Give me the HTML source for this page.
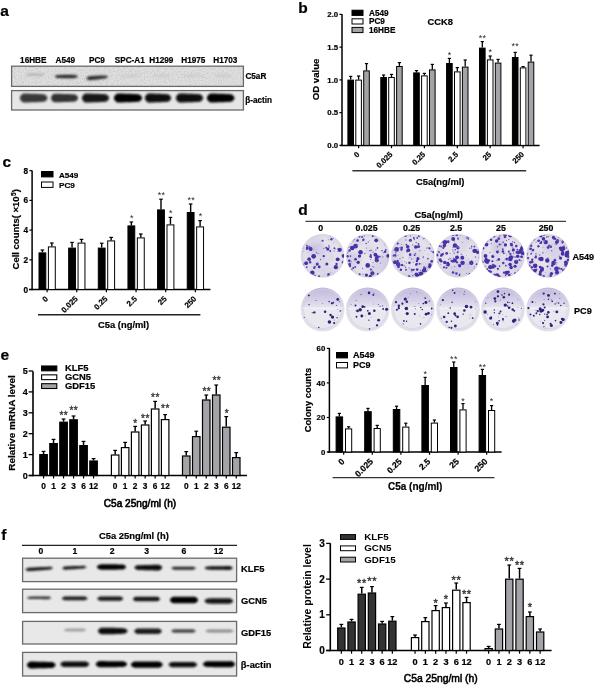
<!DOCTYPE html>
<html><head><meta charset="utf-8"><title>Figure</title>
<style>
html,body{margin:0;padding:0;background:#fff;}
svg{display:block;}
text{font-family:"Liberation Sans",Arial,Helvetica,sans-serif;}
text:not([stroke]){stroke:#000;stroke-width:0.2px;}
</style></head><body>
<svg width="595" height="685" viewBox="0 0 595 685">
<defs>
<filter id="b1" x="-20%" y="-80%" width="140%" height="260%"><feGaussianBlur stdDeviation="0.8"/></filter>
<filter id="noise" x="0" y="0" width="100%" height="100%"><feTurbulence type="fractalNoise" baseFrequency="0.7" numOctaves="2" seed="7" result="t"/><feColorMatrix in="t" type="matrix" values="0 0 0 0 0  0 0 0 0 0  0 0 0 0 0  0 0 0 -2.2 1.35" result="m"/><feComposite in="m" in2="SourceGraphic" operator="in"/><feGaussianBlur stdDeviation="0.6"/></filter>
<filter id="b15" x="-20%" y="-100%" width="140%" height="300%"><feGaussianBlur stdDeviation="1.0"/></filter>
<radialGradient id="gA" cx="50%" cy="50%" r="50%"><stop offset="0" stop-color="#e8e7ec"/><stop offset="0.8" stop-color="#e3e1e9"/><stop offset="0.95" stop-color="#d9d6e3"/><stop offset="1" stop-color="#e2e0e8"/></radialGradient>
<linearGradient id="gP" x1="0" y1="0" x2="0" y2="1"><stop offset="0" stop-color="#c0b6dc"/><stop offset="0.3" stop-color="#d8d2e8"/><stop offset="0.5" stop-color="#ebe9f0"/><stop offset="1" stop-color="#e8e6ee"/></linearGradient>
<filter id="b0" x="-5%" y="-5%" width="110%" height="110%"><feGaussianBlur stdDeviation="0.35"/></filter>
<filter id="b2" x="-50%" y="-50%" width="200%" height="200%"><feGaussianBlur stdDeviation="1.5"/></filter>
</defs>
<rect width="595" height="685" fill="#fff"/>
<text x="0.3" y="15.5" font-size="15.5" font-weight="bold" text-anchor="start" fill="#000" >a</text>
<text x="33.3" y="63" font-size="8.2" font-weight="bold" text-anchor="middle" fill="#000" >16HBE</text>
<text x="65.3" y="63" font-size="8.2" font-weight="bold" text-anchor="middle" fill="#000" >A549</text>
<text x="96.9" y="63" font-size="8.2" font-weight="bold" text-anchor="middle" fill="#000" >PC9</text>
<text x="129.8" y="63" font-size="8.2" font-weight="bold" text-anchor="middle" fill="#000" >SPC-A1</text>
<text x="161.3" y="63" font-size="8.2" font-weight="bold" text-anchor="middle" fill="#000" >H1299</text>
<text x="193.3" y="63" font-size="8.2" font-weight="bold" text-anchor="middle" fill="#000" >H1975</text>
<text x="225.3" y="63" font-size="8.2" font-weight="bold" text-anchor="middle" fill="#000" >H1703</text>
<rect x="11.6" y="66.2" width="231.8" height="20.2" fill="#e0e0e0" stroke="#6a6a6a" stroke-width="1.3" />
<rect x="12.3" y="66.9" width="230.4" height="18.8" fill="#000" filter="url(#noise)" opacity="0.1"/>
<rect x="11.6" y="90.6" width="231.8" height="19.4" fill="#e6e6e6" stroke="#6a6a6a" stroke-width="1.3" />
<path d="M26,74.27 L27,73.63 L28,73.3 L29,73.3 L30,73.3 L31,73.3 L32,73.3 L33,73.3 L34,73.3 L35,73.3 L36,73.3 L37,73.3 L38,73.3 L39,73.3 L40,73.3 L41,73.3 L42,73.3 L43,73.63 L44,74.27 L44,74.92 L43,75.57 L42,75.9 L41,75.9 L40,75.9 L39,75.9 L38,75.9 L37,75.9 L36,75.9 L35,75.9 L34,75.9 L33,75.9 L32,75.9 L31,75.9 L30,75.9 L29,75.9 L28,75.9 L27,75.57 L26,74.92Z" fill="#b0b0b0" opacity="0.8" filter="url(#b1)"/>
<path d="M54.8,76.17 L56.06,75.49 L57.32,75.09 L58.58,75.04 L59.84,74.98 L61.11,74.93 L62.37,74.87 L63.63,74.82 L64.89,74.76 L66.15,74.7 L67.41,74.73 L68.67,74.76 L69.93,74.79 L71.19,74.83 L72.46,74.86 L73.72,74.89 L74.98,74.93 L76.24,75.36 L77.5,76.12 L77.5,76.88 L76.24,77.64 L74.98,78.07 L73.72,78.11 L72.46,78.14 L71.19,78.17 L69.93,78.21 L68.67,78.24 L67.41,78.27 L66.15,78.3 L64.89,78.24 L63.63,78.18 L62.37,78.13 L61.11,78.07 L59.84,78.02 L58.58,77.96 L57.32,77.91 L56.06,77.51 L54.8,76.83Z" fill="#2a2a2a" opacity="1.0" filter="url(#b1)"/>
<path d="M86.6,77.9 L87.78,76.81 L88.96,76.21 L90.13,76.12 L91.31,76.03 L92.49,75.94 L93.67,75.85 L94.84,75.76 L96.02,75.68 L97.2,75.6 L98.38,75.6 L99.56,75.59 L100.73,75.58 L101.91,75.57 L103.09,75.56 L104.27,75.55 L105.44,75.54 L106.62,75.87 L107.8,76.47 L107.8,77.12 L106.62,77.91 L105.44,78.42 L104.27,78.58 L103.09,78.75 L101.91,78.92 L100.73,79.08 L99.56,79.25 L98.38,79.43 L97.2,79.6 L96.02,79.7 L94.84,79.79 L93.67,79.88 L92.49,79.97 L91.31,80.06 L90.13,80.15 L88.96,80.24 L87.78,79.81 L86.6,78.9Z" fill="#333" opacity="1.0" filter="url(#b1)"/>
<path d="M120,75.5 L121.11,74.91 L122.22,74.6 L123.33,74.6 L124.44,74.6 L125.56,74.6 L126.67,74.6 L127.78,74.6 L128.89,74.6 L130,74.6 L131.11,74.6 L132.22,74.6 L133.33,74.6 L134.44,74.6 L135.56,74.6 L136.67,74.6 L137.78,74.6 L138.89,74.91 L140,75.5 L140,76.1 L138.89,76.69 L137.78,77 L136.67,77 L135.56,77 L134.44,77 L133.33,77 L132.22,77 L131.11,77 L130,77 L128.89,77 L127.78,77 L126.67,77 L125.56,77 L124.44,77 L123.33,77 L122.22,77 L121.11,76.69 L120,76.1Z" fill="#c4c4c4" opacity="0.6" filter="url(#b1)"/>
<path d="M152,75.5 L153,74.91 L154,74.6 L155,74.6 L156,74.6 L157,74.6 L158,74.6 L159,74.6 L160,74.6 L161,74.6 L162,74.6 L163,74.6 L164,74.6 L165,74.6 L166,74.6 L167,74.6 L168,74.6 L169,74.91 L170,75.5 L170,76.1 L169,76.69 L168,77 L167,77 L166,77 L165,77 L164,77 L163,77 L162,77 L161,77 L160,77 L159,77 L158,77 L157,77 L156,77 L155,77 L154,77 L153,76.69 L152,76.1Z" fill="#c4c4c4" opacity="0.6" filter="url(#b1)"/>
<path d="M183,75.5 L184.11,74.91 L185.22,74.6 L186.33,74.6 L187.44,74.6 L188.56,74.6 L189.67,74.6 L190.78,74.6 L191.89,74.6 L193,74.6 L194.11,74.6 L195.22,74.6 L196.33,74.6 L197.44,74.6 L198.56,74.6 L199.67,74.6 L200.78,74.6 L201.89,74.91 L203,75.5 L203,76.1 L201.89,76.69 L200.78,77 L199.67,77 L198.56,77 L197.44,77 L196.33,77 L195.22,77 L194.11,77 L193,77 L191.89,77 L190.78,77 L189.67,77 L188.56,77 L187.44,77 L186.33,77 L185.22,77 L184.11,76.69 L183,76.1Z" fill="#c4c4c4" opacity="0.6" filter="url(#b1)"/>
<path d="M214,75.5 L215,74.91 L216,74.6 L217,74.6 L218,74.6 L219,74.6 L220,74.6 L221,74.6 L222,74.6 L223,74.6 L224,74.6 L225,74.6 L226,74.6 L227,74.6 L228,74.6 L229,74.6 L230,74.6 L231,74.91 L232,75.5 L232,76.1 L231,76.69 L230,77 L229,77 L228,77 L227,77 L226,77 L225,77 L224,77 L223,77 L222,77 L221,77 L220,77 L219,77 L218,77 L217,77 L216,77 L215,76.69 L214,76.1Z" fill="#c4c4c4" opacity="0.6" filter="url(#b1)"/>
<path d="M20,96.87 L21.52,94.65 L23.04,93.53 L24.57,93.55 L26.09,93.57 L27.61,93.6 L29.13,93.62 L30.66,93.65 L32.18,93.67 L33.7,93.7 L35.22,93.77 L36.74,93.85 L38.27,93.92 L39.79,93.99 L41.31,94.06 L42.83,94.14 L44.36,94.21 L45.88,95.22 L47.4,97.09 L47.4,98.91 L45.88,100.78 L44.36,101.79 L42.83,101.86 L41.31,101.94 L39.79,102.01 L38.27,102.08 L36.74,102.15 L35.22,102.23 L33.7,102.3 L32.18,102.33 L30.66,102.35 L29.13,102.38 L27.61,102.4 L26.09,102.43 L24.57,102.45 L23.04,102.47 L21.52,101.35 L20,99.13Z" fill="#383838" opacity="1.0" filter="url(#b15)"/>
<path d="M51,96.92 L52.5,94.81 L54,93.74 L55.5,93.76 L57,93.78 L58.5,93.8 L60,93.83 L61.5,93.85 L63,93.88 L64.5,93.9 L66,93.97 L67.5,94.04 L69,94.11 L70.5,94.18 L72,94.25 L73.5,94.31 L75,94.38 L76.5,95.35 L78,97.13 L78,98.87 L76.5,100.65 L75,101.62 L73.5,101.69 L72,101.75 L70.5,101.82 L69,101.89 L67.5,101.96 L66,102.03 L64.5,102.1 L63,102.12 L61.5,102.15 L60,102.17 L58.5,102.2 L57,102.22 L55.5,102.24 L54,102.26 L52.5,101.19 L51,99.08Z" fill="#333" opacity="1.0" filter="url(#b15)"/>
<path d="M82,96.87 L83.5,94.65 L85,93.53 L86.5,93.55 L88,93.57 L89.5,93.6 L91,93.62 L92.5,93.65 L94,93.67 L95.5,93.7 L97,93.77 L98.5,93.85 L100,93.92 L101.5,93.99 L103,94.06 L104.5,94.14 L106,94.21 L107.5,95.22 L109,97.09 L109,98.91 L107.5,100.78 L106,101.79 L104.5,101.86 L103,101.94 L101.5,102.01 L100,102.08 L98.5,102.15 L97,102.23 L95.5,102.3 L94,102.33 L92.5,102.35 L91,102.38 L89.5,102.4 L88,102.43 L86.5,102.45 L85,102.47 L83.5,101.35 L82,99.13Z" fill="#141414" opacity="1.0" filter="url(#b15)"/>
<path d="M114,96.87 L115.56,94.65 L117.11,93.53 L118.67,93.55 L120.22,93.57 L121.78,93.6 L123.33,93.62 L124.89,93.65 L126.44,93.67 L128,93.7 L129.56,93.77 L131.11,93.85 L132.67,93.92 L134.22,93.99 L135.78,94.06 L137.33,94.14 L138.89,94.21 L140.44,95.22 L142,97.09 L142,98.91 L140.44,100.78 L138.89,101.79 L137.33,101.86 L135.78,101.94 L134.22,102.01 L132.67,102.08 L131.11,102.15 L129.56,102.23 L128,102.3 L126.44,102.33 L124.89,102.35 L123.33,102.38 L121.78,102.4 L120.22,102.43 L118.67,102.45 L117.11,102.47 L115.56,101.35 L114,99.13Z" fill="#050505" opacity="1.0" filter="url(#b15)"/>
<path d="M145,96.87 L146.44,94.65 L147.89,93.53 L149.33,93.55 L150.78,93.57 L152.22,93.6 L153.67,93.62 L155.11,93.65 L156.56,93.67 L158,93.7 L159.44,93.77 L160.89,93.85 L162.33,93.92 L163.78,93.99 L165.22,94.06 L166.67,94.14 L168.11,94.21 L169.56,95.22 L171,97.09 L171,98.91 L169.56,100.78 L168.11,101.79 L166.67,101.86 L165.22,101.94 L163.78,102.01 L162.33,102.08 L160.89,102.15 L159.44,102.23 L158,102.3 L156.56,102.33 L155.11,102.35 L153.67,102.38 L152.22,102.4 L150.78,102.43 L149.33,102.45 L147.89,102.47 L146.44,101.35 L145,99.13Z" fill="#080808" opacity="1.0" filter="url(#b15)"/>
<path d="M176,96.87 L177.5,94.65 L179,93.53 L180.5,93.55 L182,93.57 L183.5,93.6 L185,93.62 L186.5,93.65 L188,93.67 L189.5,93.7 L191,93.77 L192.5,93.85 L194,93.92 L195.5,93.99 L197,94.06 L198.5,94.14 L200,94.21 L201.5,95.22 L203,97.09 L203,98.91 L201.5,100.78 L200,101.79 L198.5,101.86 L197,101.94 L195.5,102.01 L194,102.08 L192.5,102.15 L191,102.23 L189.5,102.3 L188,102.33 L186.5,102.35 L185,102.38 L183.5,102.4 L182,102.43 L180.5,102.45 L179,102.47 L177.5,101.35 L176,99.13Z" fill="#080808" opacity="1.0" filter="url(#b15)"/>
<path d="M207,96.87 L208.52,94.65 L210.04,93.53 L211.57,93.55 L213.09,93.57 L214.61,93.6 L216.13,93.62 L217.66,93.65 L219.18,93.67 L220.7,93.7 L222.22,93.77 L223.74,93.85 L225.27,93.92 L226.79,93.99 L228.31,94.06 L229.83,94.14 L231.36,94.21 L232.88,95.22 L234.4,97.09 L234.4,98.91 L232.88,100.78 L231.36,101.79 L229.83,101.86 L228.31,101.94 L226.79,102.01 L225.27,102.08 L223.74,102.15 L222.22,102.23 L220.7,102.3 L219.18,102.33 L217.66,102.35 L216.13,102.38 L214.61,102.4 L213.09,102.43 L211.57,102.45 L210.04,102.47 L208.52,101.35 L207,99.13Z" fill="#050505" opacity="1.0" filter="url(#b15)"/>
<text x="245.4" y="79.2" font-size="8.2" font-weight="bold" text-anchor="start" fill="#000" >C5aR</text>
<text x="245.2" y="103" font-size="8.2" font-weight="bold" text-anchor="start" fill="#000" >&#946;-actin</text>
<text x="298.3" y="12.6" font-size="15.5" font-weight="bold" text-anchor="start" fill="#000" >b</text>
<line x1="342" y1="14" x2="342" y2="146.1" stroke="#000" stroke-width="1.5"/>
<line x1="340" y1="145.4" x2="539.6" y2="145.4" stroke="#000" stroke-width="1.5"/>
<line x1="339.4" y1="145.4" x2="342" y2="145.4" stroke="#000" stroke-width="1.2"/>
<text x="338.2" y="148.2" font-size="7.8" font-weight="bold" text-anchor="end" fill="#000" >0.0</text>
<line x1="339.4" y1="112.65" x2="342" y2="112.65" stroke="#000" stroke-width="1.2"/>
<text x="338.2" y="115.45" font-size="7.8" font-weight="bold" text-anchor="end" fill="#000" >0.5</text>
<line x1="339.4" y1="79.9" x2="342" y2="79.9" stroke="#000" stroke-width="1.2"/>
<text x="338.2" y="82.7" font-size="7.8" font-weight="bold" text-anchor="end" fill="#000" >1.0</text>
<line x1="339.4" y1="47.15" x2="342" y2="47.15" stroke="#000" stroke-width="1.2"/>
<text x="338.2" y="49.95" font-size="7.8" font-weight="bold" text-anchor="end" fill="#000" >1.5</text>
<line x1="339.4" y1="14.4" x2="342" y2="14.4" stroke="#000" stroke-width="1.2"/>
<text x="338.2" y="17.2" font-size="7.8" font-weight="bold" text-anchor="end" fill="#000" >2.0</text>
<text x="319.3" y="79.4" font-size="9.6" font-weight="bold" text-anchor="middle" fill="#000" transform="rotate(-90 319.3 79.4)">OD value</text>
<line x1="350.7" y1="79.6" x2="350.7" y2="76.4" stroke="#000" stroke-width="1.3"/>
<line x1="349.1" y1="76.4" x2="352.3" y2="76.4" stroke="#000" stroke-width="1.2"/>
<rect x="347.9" y="80.1" width="5.6" height="65.3" fill="#000" stroke="#000" stroke-width="1.0" />
<line x1="358.6" y1="79.6" x2="358.6" y2="76" stroke="#000" stroke-width="1.3"/>
<line x1="357" y1="76" x2="360.2" y2="76" stroke="#000" stroke-width="1.2"/>
<rect x="355.8" y="80.1" width="5.6" height="65.3" fill="#fff" stroke="#000" stroke-width="1.0" />
<line x1="366.5" y1="70.4" x2="366.5" y2="63.6" stroke="#000" stroke-width="1.3"/>
<line x1="364.9" y1="63.6" x2="368.1" y2="63.6" stroke="#000" stroke-width="1.2"/>
<rect x="363.7" y="70.9" width="5.6" height="74.5" fill="#a4a4a8" stroke="#000" stroke-width="1.0" />
<line x1="358.6" y1="145.4" x2="358.6" y2="148.2" stroke="#000" stroke-width="1.2"/>
<text x="360.1" y="155" font-size="7.7" font-weight="bold" text-anchor="end" fill="#000" transform="rotate(-45 360.1 155)">0</text>
<line x1="383.6" y1="77" x2="383.6" y2="75" stroke="#000" stroke-width="1.3"/>
<line x1="382" y1="75" x2="385.2" y2="75" stroke="#000" stroke-width="1.2"/>
<rect x="380.8" y="77.5" width="5.6" height="67.9" fill="#000" stroke="#000" stroke-width="1.0" />
<line x1="391.5" y1="77" x2="391.5" y2="74.4" stroke="#000" stroke-width="1.3"/>
<line x1="389.9" y1="74.4" x2="393.1" y2="74.4" stroke="#000" stroke-width="1.2"/>
<rect x="388.7" y="77.5" width="5.6" height="67.9" fill="#fff" stroke="#000" stroke-width="1.0" />
<line x1="399.4" y1="66" x2="399.4" y2="62.6" stroke="#000" stroke-width="1.3"/>
<line x1="397.8" y1="62.6" x2="401" y2="62.6" stroke="#000" stroke-width="1.2"/>
<rect x="396.6" y="66.5" width="5.6" height="78.9" fill="#a4a4a8" stroke="#000" stroke-width="1.0" />
<line x1="391.5" y1="145.4" x2="391.5" y2="148.2" stroke="#000" stroke-width="1.2"/>
<text x="393" y="155" font-size="7.7" font-weight="bold" text-anchor="end" fill="#000" transform="rotate(-45 393 155)">0.025</text>
<line x1="416.5" y1="72.4" x2="416.5" y2="70.6" stroke="#000" stroke-width="1.3"/>
<line x1="414.9" y1="70.6" x2="418.1" y2="70.6" stroke="#000" stroke-width="1.2"/>
<rect x="413.7" y="72.9" width="5.6" height="72.5" fill="#000" stroke="#000" stroke-width="1.0" />
<line x1="424.4" y1="75.4" x2="424.4" y2="73.4" stroke="#000" stroke-width="1.3"/>
<line x1="422.8" y1="73.4" x2="426" y2="73.4" stroke="#000" stroke-width="1.2"/>
<rect x="421.6" y="75.9" width="5.6" height="69.5" fill="#fff" stroke="#000" stroke-width="1.0" />
<line x1="432.3" y1="69.4" x2="432.3" y2="64.4" stroke="#000" stroke-width="1.3"/>
<line x1="430.7" y1="64.4" x2="433.9" y2="64.4" stroke="#000" stroke-width="1.2"/>
<rect x="429.5" y="69.9" width="5.6" height="75.5" fill="#a4a4a8" stroke="#000" stroke-width="1.0" />
<line x1="424.4" y1="145.4" x2="424.4" y2="148.2" stroke="#000" stroke-width="1.2"/>
<text x="425.9" y="155" font-size="7.7" font-weight="bold" text-anchor="end" fill="#000" transform="rotate(-45 425.9 155)">0.25</text>
<line x1="449.4" y1="63" x2="449.4" y2="58.4" stroke="#000" stroke-width="1.3"/>
<line x1="447.8" y1="58.4" x2="451" y2="58.4" stroke="#000" stroke-width="1.2"/>
<rect x="446.6" y="63.5" width="5.6" height="81.9" fill="#000" stroke="#000" stroke-width="1.0" />
<line x1="457.3" y1="71.4" x2="457.3" y2="67.6" stroke="#000" stroke-width="1.3"/>
<line x1="455.7" y1="67.6" x2="458.9" y2="67.6" stroke="#000" stroke-width="1.2"/>
<rect x="454.5" y="71.9" width="5.6" height="73.5" fill="#fff" stroke="#000" stroke-width="1.0" />
<line x1="465.2" y1="66.6" x2="465.2" y2="60" stroke="#000" stroke-width="1.3"/>
<line x1="463.6" y1="60" x2="466.8" y2="60" stroke="#000" stroke-width="1.2"/>
<rect x="462.4" y="67.1" width="5.6" height="78.3" fill="#a4a4a8" stroke="#000" stroke-width="1.0" />
<line x1="457.3" y1="145.4" x2="457.3" y2="148.2" stroke="#000" stroke-width="1.2"/>
<text x="458.8" y="155" font-size="7.7" font-weight="bold" text-anchor="end" fill="#000" transform="rotate(-45 458.8 155)">2.5</text>
<line x1="482.3" y1="47.6" x2="482.3" y2="41.6" stroke="#000" stroke-width="1.3"/>
<line x1="480.7" y1="41.6" x2="483.9" y2="41.6" stroke="#000" stroke-width="1.2"/>
<rect x="479.5" y="48.1" width="5.6" height="97.3" fill="#000" stroke="#000" stroke-width="1.0" />
<line x1="490.2" y1="59.4" x2="490.2" y2="56" stroke="#000" stroke-width="1.3"/>
<line x1="488.6" y1="56" x2="491.8" y2="56" stroke="#000" stroke-width="1.2"/>
<rect x="487.4" y="59.9" width="5.6" height="85.5" fill="#fff" stroke="#000" stroke-width="1.0" />
<line x1="498.1" y1="62.6" x2="498.1" y2="59.4" stroke="#000" stroke-width="1.3"/>
<line x1="496.5" y1="59.4" x2="499.7" y2="59.4" stroke="#000" stroke-width="1.2"/>
<rect x="495.3" y="63.1" width="5.6" height="82.3" fill="#a4a4a8" stroke="#000" stroke-width="1.0" />
<line x1="490.2" y1="145.4" x2="490.2" y2="148.2" stroke="#000" stroke-width="1.2"/>
<text x="491.7" y="155" font-size="7.7" font-weight="bold" text-anchor="end" fill="#000" transform="rotate(-45 491.7 155)">25</text>
<line x1="515.2" y1="57" x2="515.2" y2="52.4" stroke="#000" stroke-width="1.3"/>
<line x1="513.6" y1="52.4" x2="516.8" y2="52.4" stroke="#000" stroke-width="1.2"/>
<rect x="512.4" y="57.5" width="5.6" height="87.9" fill="#000" stroke="#000" stroke-width="1.0" />
<line x1="523.1" y1="67.4" x2="523.1" y2="66.6" stroke="#000" stroke-width="1.3"/>
<line x1="521.5" y1="66.6" x2="524.7" y2="66.6" stroke="#000" stroke-width="1.2"/>
<rect x="520.3" y="67.9" width="5.6" height="77.5" fill="#fff" stroke="#000" stroke-width="1.0" />
<line x1="531" y1="61.6" x2="531" y2="55.2" stroke="#000" stroke-width="1.3"/>
<line x1="529.4" y1="55.2" x2="532.6" y2="55.2" stroke="#000" stroke-width="1.2"/>
<rect x="528.2" y="62.1" width="5.6" height="83.3" fill="#a4a4a8" stroke="#000" stroke-width="1.0" />
<line x1="523.1" y1="145.4" x2="523.1" y2="148.2" stroke="#000" stroke-width="1.2"/>
<text x="524.6" y="155" font-size="7.7" font-weight="bold" text-anchor="end" fill="#000" transform="rotate(-45 524.6 155)">250</text>
<text x="449.55" y="58.35" font-size="9" font-weight="normal" text-anchor="middle" fill="#2a2a2a" letter-spacing="0.3" stroke="none">*</text>
<text x="482.45" y="40.55" font-size="9" font-weight="normal" text-anchor="middle" fill="#2a2a2a" letter-spacing="0.3" stroke="none">**</text>
<text x="490.35" y="54.95" font-size="9" font-weight="normal" text-anchor="middle" fill="#2a2a2a" letter-spacing="0.3" stroke="none">*</text>
<text x="515.35" y="49.35" font-size="9" font-weight="normal" text-anchor="middle" fill="#2a2a2a" letter-spacing="0.3" stroke="none">**</text>
<line x1="352.4" y1="170.75" x2="526.2" y2="170.75" stroke="#333" stroke-width="1.4"/>
<text x="416" y="185.2" font-size="9.4" font-weight="bold" text-anchor="start" fill="#000" >C5a(ng/ml)</text>
<rect x="352" y="10.2" width="11" height="5.2" fill="#000" stroke="#000" stroke-width="1" />
<text x="369" y="15.8" font-size="8.2" font-weight="bold" text-anchor="start" fill="#000" >A549</text>
<rect x="352" y="18.8" width="11" height="5.2" fill="#fff" stroke="#000" stroke-width="1" />
<text x="369" y="24.4" font-size="8.2" font-weight="bold" text-anchor="start" fill="#000" >PC9</text>
<rect x="352" y="27.4" width="11" height="5.2" fill="#a4a4a8" stroke="#000" stroke-width="1" />
<text x="369" y="33" font-size="8.2" font-weight="bold" text-anchor="start" fill="#000" >16HBE</text>
<text x="427.6" y="25" font-size="9.3" font-weight="bold" text-anchor="start" fill="#000" >CCK8</text>
<text x="2.6" y="167" font-size="15.5" font-weight="bold" text-anchor="start" fill="#000" >c</text>
<line x1="32.1" y1="170.6" x2="32.1" y2="290.2" stroke="#000" stroke-width="1.5"/>
<line x1="29" y1="289.5" x2="210.4" y2="289.5" stroke="#000" stroke-width="1.5"/>
<line x1="29.4" y1="289.5" x2="32.1" y2="289.5" stroke="#000" stroke-width="1.2"/>
<text x="28" y="292.5" font-size="8.3" font-weight="bold" text-anchor="end" fill="#000" >0</text>
<line x1="29.4" y1="259.8" x2="32.1" y2="259.8" stroke="#000" stroke-width="1.2"/>
<text x="28" y="262.8" font-size="8.3" font-weight="bold" text-anchor="end" fill="#000" >2</text>
<line x1="29.4" y1="230.1" x2="32.1" y2="230.1" stroke="#000" stroke-width="1.2"/>
<text x="28" y="233.1" font-size="8.3" font-weight="bold" text-anchor="end" fill="#000" >4</text>
<line x1="29.4" y1="200.4" x2="32.1" y2="200.4" stroke="#000" stroke-width="1.2"/>
<text x="28" y="203.4" font-size="8.3" font-weight="bold" text-anchor="end" fill="#000" >6</text>
<line x1="29.4" y1="170.7" x2="32.1" y2="170.7" stroke="#000" stroke-width="1.2"/>
<text x="28" y="173.7" font-size="8.3" font-weight="bold" text-anchor="end" fill="#000" >8</text>
<text x="19.5" y="229.3" font-size="9.5" font-weight="bold" text-anchor="middle" fill="#000" transform="rotate(-90 19.5 229.3)">Cell counts( &#215;10<tspan font-size="6.6" dy="-3.6" dx="0.4">5</tspan><tspan dy="3.6">)</tspan></text>
<line x1="42.4" y1="252.4" x2="42.4" y2="250" stroke="#000" stroke-width="1.4"/>
<line x1="40.6" y1="250" x2="44.2" y2="250" stroke="#000" stroke-width="1.2"/>
<rect x="39" y="252.9" width="6.8" height="36.6" fill="#000" stroke="#000" stroke-width="1.0" />
<line x1="51.85" y1="246.4" x2="51.85" y2="243" stroke="#000" stroke-width="1.4"/>
<line x1="50.05" y1="243" x2="53.65" y2="243" stroke="#000" stroke-width="1.2"/>
<rect x="48.4" y="246.9" width="6.9" height="42.6" fill="#fff" stroke="#000" stroke-width="1.0" />
<line x1="47.1" y1="289.5" x2="47.1" y2="292.3" stroke="#000" stroke-width="1.2"/>
<text x="48.7" y="299.3" font-size="7.9" font-weight="bold" text-anchor="end" fill="#000" transform="rotate(-45 48.7 299.3)">0</text>
<line x1="72.05" y1="247.6" x2="72.05" y2="242.4" stroke="#000" stroke-width="1.4"/>
<line x1="70.25" y1="242.4" x2="73.85" y2="242.4" stroke="#000" stroke-width="1.2"/>
<rect x="68.65" y="248.1" width="6.8" height="41.4" fill="#000" stroke="#000" stroke-width="1.0" />
<line x1="81.5" y1="242.6" x2="81.5" y2="239.4" stroke="#000" stroke-width="1.4"/>
<line x1="79.7" y1="239.4" x2="83.3" y2="239.4" stroke="#000" stroke-width="1.2"/>
<rect x="78.05" y="243.1" width="6.9" height="46.4" fill="#fff" stroke="#000" stroke-width="1.0" />
<line x1="76.75" y1="289.5" x2="76.75" y2="292.3" stroke="#000" stroke-width="1.2"/>
<text x="78.35" y="299.3" font-size="7.9" font-weight="bold" text-anchor="end" fill="#000" transform="rotate(-45 78.35 299.3)">0.025</text>
<line x1="101.7" y1="247.6" x2="101.7" y2="243.2" stroke="#000" stroke-width="1.4"/>
<line x1="99.9" y1="243.2" x2="103.5" y2="243.2" stroke="#000" stroke-width="1.2"/>
<rect x="98.3" y="248.1" width="6.8" height="41.4" fill="#000" stroke="#000" stroke-width="1.0" />
<line x1="111.15" y1="240.4" x2="111.15" y2="237.4" stroke="#000" stroke-width="1.4"/>
<line x1="109.35" y1="237.4" x2="112.95" y2="237.4" stroke="#000" stroke-width="1.2"/>
<rect x="107.7" y="240.9" width="6.9" height="48.6" fill="#fff" stroke="#000" stroke-width="1.0" />
<line x1="106.4" y1="289.5" x2="106.4" y2="292.3" stroke="#000" stroke-width="1.2"/>
<text x="108" y="299.3" font-size="7.9" font-weight="bold" text-anchor="end" fill="#000" transform="rotate(-45 108 299.3)">0.25</text>
<line x1="131.35" y1="225.4" x2="131.35" y2="222" stroke="#000" stroke-width="1.4"/>
<line x1="129.55" y1="222" x2="133.15" y2="222" stroke="#000" stroke-width="1.2"/>
<rect x="127.95" y="225.9" width="6.8" height="63.6" fill="#000" stroke="#000" stroke-width="1.0" />
<line x1="140.8" y1="237.4" x2="140.8" y2="234" stroke="#000" stroke-width="1.4"/>
<line x1="139" y1="234" x2="142.6" y2="234" stroke="#000" stroke-width="1.2"/>
<rect x="137.35" y="237.9" width="6.9" height="51.6" fill="#fff" stroke="#000" stroke-width="1.0" />
<line x1="136.05" y1="289.5" x2="136.05" y2="292.3" stroke="#000" stroke-width="1.2"/>
<text x="137.65" y="299.3" font-size="7.9" font-weight="bold" text-anchor="end" fill="#000" transform="rotate(-45 137.65 299.3)">2.5</text>
<line x1="161" y1="209.4" x2="161" y2="199.2" stroke="#000" stroke-width="1.4"/>
<line x1="159.2" y1="199.2" x2="162.8" y2="199.2" stroke="#000" stroke-width="1.2"/>
<rect x="157.6" y="209.9" width="6.8" height="79.6" fill="#000" stroke="#000" stroke-width="1.0" />
<line x1="170.45" y1="224.4" x2="170.45" y2="217.4" stroke="#000" stroke-width="1.4"/>
<line x1="168.65" y1="217.4" x2="172.25" y2="217.4" stroke="#000" stroke-width="1.2"/>
<rect x="167" y="224.9" width="6.9" height="64.6" fill="#fff" stroke="#000" stroke-width="1.0" />
<line x1="165.7" y1="289.5" x2="165.7" y2="292.3" stroke="#000" stroke-width="1.2"/>
<text x="167.3" y="299.3" font-size="7.9" font-weight="bold" text-anchor="end" fill="#000" transform="rotate(-45 167.3 299.3)">25</text>
<line x1="190.65" y1="212" x2="190.65" y2="204" stroke="#000" stroke-width="1.4"/>
<line x1="188.85" y1="204" x2="192.45" y2="204" stroke="#000" stroke-width="1.2"/>
<rect x="187.25" y="212.5" width="6.8" height="77" fill="#000" stroke="#000" stroke-width="1.0" />
<line x1="200.1" y1="226.4" x2="200.1" y2="220.6" stroke="#000" stroke-width="1.4"/>
<line x1="198.3" y1="220.6" x2="201.9" y2="220.6" stroke="#000" stroke-width="1.2"/>
<rect x="196.65" y="226.9" width="6.9" height="62.6" fill="#fff" stroke="#000" stroke-width="1.0" />
<line x1="195.35" y1="289.5" x2="195.35" y2="292.3" stroke="#000" stroke-width="1.2"/>
<text x="196.95" y="299.3" font-size="7.9" font-weight="bold" text-anchor="end" fill="#000" transform="rotate(-45 196.95 299.3)">250</text>
<text x="131.9" y="220.95" font-size="9" font-weight="normal" text-anchor="middle" fill="#2a2a2a" letter-spacing="0.3" stroke="none">*</text>
<text x="161.55" y="197.55" font-size="9" font-weight="normal" text-anchor="middle" fill="#2a2a2a" letter-spacing="0.3" stroke="none">**</text>
<text x="170.95" y="216.35" font-size="9" font-weight="normal" text-anchor="middle" fill="#2a2a2a" letter-spacing="0.3" stroke="none">*</text>
<text x="191.2" y="202.95" font-size="9" font-weight="normal" text-anchor="middle" fill="#2a2a2a" letter-spacing="0.3" stroke="none">**</text>
<text x="200.6" y="219.35" font-size="9" font-weight="normal" text-anchor="middle" fill="#2a2a2a" letter-spacing="0.3" stroke="none">*</text>
<line x1="38" y1="314.8" x2="200.4" y2="314.8" stroke="#222" stroke-width="1.4"/>
<text x="98" y="328.2" font-size="9.4" font-weight="bold" text-anchor="start" fill="#000" >C5a (ng/ml)</text>
<rect x="41.5" y="171.5" width="11.5" height="5.4" fill="#000" stroke="#000" stroke-width="1" />
<rect x="41.5" y="182" width="11.5" height="5.4" fill="#fff" stroke="#000" stroke-width="1" />
<text x="59" y="177.6" font-size="8.1" font-weight="bold" text-anchor="start" fill="#000" >A549</text>
<text x="59" y="188" font-size="8.1" font-weight="bold" text-anchor="start" fill="#000" >PC9</text>
<text x="298.3" y="215" font-size="15.5" font-weight="bold" text-anchor="start" fill="#000" >d</text>
<line x1="305.4" y1="221.3" x2="566" y2="221.3" stroke="#444" stroke-width="1.3"/>
<text x="438.7" y="218.2" font-size="9.4" font-weight="bold" text-anchor="middle" fill="#000" >C5a(ng/ml)</text>
<text x="320.6" y="231.2" font-size="8.8" font-weight="bold" text-anchor="middle" fill="#000" >0</text>
<text x="366.6" y="231.2" font-size="8.8" font-weight="bold" text-anchor="middle" fill="#000" >0.025</text>
<text x="411.6" y="231.2" font-size="8.8" font-weight="bold" text-anchor="middle" fill="#000" >0.25</text>
<text x="456" y="231.2" font-size="8.8" font-weight="bold" text-anchor="middle" fill="#000" >2.5</text>
<text x="501" y="231.2" font-size="8.8" font-weight="bold" text-anchor="middle" fill="#000" >25</text>
<text x="546" y="231.2" font-size="8.8" font-weight="bold" text-anchor="middle" fill="#000" >250</text>
<circle cx="322.6" cy="255.8" r="22" fill="url(#gA)"/>
<g clip-path="url(#cp10)">
<clipPath id="cp10"><circle cx="322.6" cy="255.8" r="21.4"/></clipPath>
<circle cx="310.92" cy="250.18" r="5.89" fill="#c8bfe2" opacity="0.3" filter="url(#b2)"/>
<circle cx="327.46" cy="272.98" r="7.12" fill="#c8bfe2" opacity="0.3" filter="url(#b2)"/>
<circle cx="318.08" cy="249.29" r="5.6" fill="#c8bfe2" opacity="0.3" filter="url(#b2)"/>
<circle cx="317.95" cy="264.54" r="7.76" fill="#c8bfe2" opacity="0.3" filter="url(#b2)"/>
<circle cx="326.78" cy="255.71" r="7.3" fill="#c8bfe2" opacity="0.3" filter="url(#b2)"/>
<circle cx="312.85" cy="248.41" r="4.42" fill="#c8bfe2" opacity="0.3" filter="url(#b2)"/>
<circle cx="316.52" cy="243.88" r="6.43" fill="#c8bfe2" opacity="0.3" filter="url(#b2)"/>
<circle cx="318.8" cy="249.66" r="6.84" fill="#c8bfe2" opacity="0.3" filter="url(#b2)"/>
<g filter="url(#b0)">
<circle cx="319.23" cy="266.93" r="1.39" fill="#482ea6"/>
<circle cx="337.69" cy="259.36" r="1.96" fill="#482ea6"/>
<circle cx="327.82" cy="249.08" r="1.59" fill="#482ea6"/>
<circle cx="335.81" cy="267.14" r="2.15" fill="#482ea6"/>
<circle cx="306.15" cy="263.14" r="1.9" fill="#482ea6"/>
<circle cx="343.86" cy="255.94" r="1.96" fill="#482ea6"/>
<circle cx="326.83" cy="264.01" r="1.53" fill="#482ea6"/>
<circle cx="342.84" cy="255.7" r="1.2" fill="#482ea6"/>
<circle cx="310.67" cy="248.96" r="1.98" fill="#482ea6"/>
<circle cx="314.22" cy="267.87" r="1.18" fill="#482ea6"/>
<circle cx="309.07" cy="259.14" r="1.86" fill="#482ea6"/>
<circle cx="313.66" cy="256.37" r="2.36" fill="#482ea6"/>
<circle cx="323.74" cy="256.06" r="1.17" fill="#482ea6"/>
<circle cx="339.71" cy="249.84" r="2.14" fill="#482ea6"/>
<circle cx="317.23" cy="264.08" r="1.55" fill="#482ea6"/>
<circle cx="312.34" cy="272.8" r="2.28" fill="#482ea6"/>
<circle cx="343.1" cy="262.45" r="1.35" fill="#482ea6"/>
<circle cx="307.34" cy="247.99" r="1.49" fill="#482ea6"/>
<circle cx="329.09" cy="247.01" r="0.76" fill="#5638b0"/>
<circle cx="309.23" cy="246.43" r="0.77" fill="#5638b0"/>
<circle cx="326.21" cy="247.7" r="0.95" fill="#5638b0"/>
<circle cx="306.76" cy="267.2" r="0.83" fill="#5638b0"/>
<circle cx="310.54" cy="247.99" r="1.18" fill="#5638b0"/>
<circle cx="314.84" cy="275.94" r="1.23" fill="#5638b0"/>
<circle cx="331.33" cy="239.26" r="1.22" fill="#5638b0"/>
<circle cx="327.96" cy="275.9" r="0.71" fill="#5638b0"/>
<circle cx="310.12" cy="262.27" r="1.27" fill="#5638b0"/>
<circle cx="328.6" cy="274.18" r="1.28" fill="#5638b0"/>
<circle cx="314.97" cy="266.58" r="0.84" fill="#5638b0"/>
<circle cx="322.55" cy="240.77" r="1.05" fill="#5638b0"/>
<circle cx="334.32" cy="248.16" r="0.94" fill="#5638b0"/>
<circle cx="319.06" cy="276.44" r="1.11" fill="#5638b0"/>
<circle cx="336.57" cy="263.94" r="1.21" fill="#5638b0"/>
<circle cx="330.25" cy="251" r="0.99" fill="#5638b0"/>
<circle cx="306.99" cy="249.13" r="0.91" fill="#5638b0"/>
<circle cx="306.94" cy="245.62" r="0.96" fill="#5638b0"/>
<circle cx="314.1" cy="249.14" r="0.47" fill="#7a64c4"/>
<circle cx="303.94" cy="248.93" r="0.37" fill="#7a64c4"/>
<circle cx="317.19" cy="253.25" r="0.52" fill="#7a64c4"/>
<circle cx="302.83" cy="246.57" r="0.72" fill="#7a64c4"/>
<circle cx="328.3" cy="239.84" r="0.51" fill="#7a64c4"/>
<circle cx="311.56" cy="273.35" r="0.43" fill="#7a64c4"/>
<circle cx="337.67" cy="249.01" r="0.66" fill="#7a64c4"/>
<circle cx="333.11" cy="238.17" r="0.61" fill="#7a64c4"/>
<circle cx="318.89" cy="253.81" r="0.5" fill="#7a64c4"/>
<circle cx="334.11" cy="250.83" r="0.61" fill="#7a64c4"/>
<circle cx="323.67" cy="248.34" r="0.67" fill="#7a64c4"/>
<circle cx="317.57" cy="263.16" r="0.64" fill="#7a64c4"/>
<circle cx="303.38" cy="251.29" r="0.39" fill="#7a64c4"/>
<circle cx="303.44" cy="263.49" r="0.37" fill="#7a64c4"/>
<circle cx="335.63" cy="249.06" r="0.54" fill="#7a64c4"/>
<circle cx="308.65" cy="260.18" r="0.59" fill="#7a64c4"/>
<circle cx="313.91" cy="267.18" r="0.68" fill="#7a64c4"/>
<circle cx="337.75" cy="251.47" r="0.51" fill="#7a64c4"/>
<circle cx="337.04" cy="265.89" r="0.37" fill="#7a64c4"/>
<circle cx="333.83" cy="242.25" r="0.43" fill="#7a64c4"/>
<circle cx="303.69" cy="264.88" r="0.71" fill="#7a64c4"/>
<circle cx="302.51" cy="247.98" r="0.59" fill="#7a64c4"/>
<circle cx="333.49" cy="274.35" r="0.44" fill="#7a64c4"/>
<circle cx="316.51" cy="252.45" r="0.58" fill="#7a64c4"/>
<circle cx="328.82" cy="245.42" r="0.69" fill="#7a64c4"/>
<circle cx="307.35" cy="267.5" r="0.38" fill="#7a64c4"/>
<circle cx="323.52" cy="240.4" r="0.42" fill="#7a64c4"/>
<circle cx="330.4" cy="235.67" r="0.73" fill="#7a64c4"/>
<circle cx="320.59" cy="259.55" r="0.68" fill="#7a64c4"/>
<circle cx="330.87" cy="272.34" r="0.41" fill="#7a64c4"/>
</g></g>
<circle cx="322.6" cy="309.6" r="22" fill="url(#gP)"/>
<circle cx="322.6" cy="309.6" r="20.4" fill="none" stroke="#d8d4e6" stroke-width="1.6" opacity="0.5"/>
<circle cx="322.6" cy="309.6" r="19" fill="none" stroke="#c9c4d8" stroke-width="0.5"/>
<line x1="302.6" y1="308.1" x2="342.6" y2="308.1" stroke="#f6f6f8" stroke-width="1"/>
<g filter="url(#b0)">
<circle cx="337.71" cy="299.42" r="1.35" fill="#2e2178"/>
<circle cx="331.86" cy="303.27" r="1.14" fill="#2e2178"/>
<circle cx="329.45" cy="321.94" r="1.79" fill="#2e2178"/>
<circle cx="332.5" cy="317.11" r="1.69" fill="#2e2178"/>
<circle cx="313.05" cy="312.74" r="0.81" fill="#2e2178"/>
<circle cx="333.3" cy="302.68" r="0.9" fill="#2e2178"/>
<circle cx="308.87" cy="295.4" r="0.97" fill="#2e2178"/>
<circle cx="337.12" cy="317.76" r="0.7" fill="#2e2178"/>
<circle cx="330.55" cy="314.97" r="1.23" fill="#2e2178"/>
<circle cx="318.78" cy="327.48" r="0.73" fill="#2e2178"/>
<circle cx="325.08" cy="311.87" r="1.25" fill="#2e2178"/>
<circle cx="329.13" cy="301.62" r="0.76" fill="#2e2178"/>
<circle cx="340.21" cy="311.04" r="0.8" fill="#2e2178"/>
<circle cx="334.14" cy="323.01" r="1.1" fill="#2e2178"/>
<circle cx="314.46" cy="312.39" r="1.15" fill="#2e2178"/>
<circle cx="309" cy="304.64" r="0.73" fill="#2e2178"/>
<circle cx="339.35" cy="301.57" r="0.56" fill="#5a4a9a"/>
<circle cx="337.83" cy="309.22" r="0.45" fill="#5a4a9a"/>
<circle cx="334.21" cy="320.01" r="0.51" fill="#5a4a9a"/>
<circle cx="304.24" cy="317.35" r="0.6" fill="#5a4a9a"/>
<circle cx="336.72" cy="322.02" r="0.35" fill="#5a4a9a"/>
<circle cx="316.08" cy="300.45" r="0.57" fill="#5a4a9a"/>
<circle cx="336.52" cy="305.32" r="0.58" fill="#5a4a9a"/>
<circle cx="337.99" cy="315.07" r="0.39" fill="#5a4a9a"/>
<circle cx="311.5" cy="312.81" r="0.37" fill="#5a4a9a"/>
<circle cx="322.49" cy="303.49" r="0.43" fill="#5a4a9a"/>
</g>
<circle cx="367.7" cy="255.8" r="22" fill="url(#gA)"/>
<g clip-path="url(#cp11)">
<clipPath id="cp11"><circle cx="367.7" cy="255.8" r="21.4"/></clipPath>
<circle cx="353.54" cy="260.17" r="7.62" fill="#c8bfe2" opacity="0.3" filter="url(#b2)"/>
<circle cx="353.92" cy="258.82" r="5.94" fill="#c8bfe2" opacity="0.3" filter="url(#b2)"/>
<circle cx="373.35" cy="268.79" r="6.15" fill="#c8bfe2" opacity="0.3" filter="url(#b2)"/>
<circle cx="369.32" cy="249.95" r="4.52" fill="#c8bfe2" opacity="0.3" filter="url(#b2)"/>
<circle cx="382.7" cy="265.41" r="6.47" fill="#c8bfe2" opacity="0.3" filter="url(#b2)"/>
<circle cx="386.65" cy="260.9" r="7.82" fill="#c8bfe2" opacity="0.3" filter="url(#b2)"/>
<circle cx="358.88" cy="243.01" r="3.79" fill="#c8bfe2" opacity="0.3" filter="url(#b2)"/>
<circle cx="382.03" cy="257.15" r="3.3" fill="#c8bfe2" opacity="0.3" filter="url(#b2)"/>
<g filter="url(#b0)">
<circle cx="370.34" cy="276.35" r="1.62" fill="#482ea6"/>
<circle cx="351.41" cy="269.89" r="1.1" fill="#482ea6"/>
<circle cx="366.43" cy="275.1" r="1.62" fill="#482ea6"/>
<circle cx="349.32" cy="260.83" r="1.21" fill="#482ea6"/>
<circle cx="385.1" cy="251.8" r="1.23" fill="#482ea6"/>
<circle cx="358.2" cy="262.32" r="1.68" fill="#482ea6"/>
<circle cx="346.32" cy="264.61" r="1.61" fill="#482ea6"/>
<circle cx="388.15" cy="255.86" r="1.87" fill="#482ea6"/>
<circle cx="377.15" cy="256.97" r="1.88" fill="#482ea6"/>
<circle cx="375.82" cy="258" r="1.11" fill="#482ea6"/>
<circle cx="376.23" cy="240.35" r="1.93" fill="#482ea6"/>
<circle cx="355.53" cy="246.18" r="2.35" fill="#482ea6"/>
<circle cx="352.22" cy="247.97" r="2.28" fill="#482ea6"/>
<circle cx="367.73" cy="265.38" r="2.32" fill="#482ea6"/>
<circle cx="359.52" cy="256.12" r="1.65" fill="#482ea6"/>
<circle cx="372.39" cy="273.34" r="2.06" fill="#482ea6"/>
<circle cx="349.31" cy="265.79" r="1.78" fill="#482ea6"/>
<circle cx="375.44" cy="254.68" r="1.95" fill="#482ea6"/>
<circle cx="376.76" cy="260.35" r="2.07" fill="#482ea6"/>
<circle cx="355.51" cy="259.23" r="1.33" fill="#482ea6"/>
<circle cx="360.53" cy="252.3" r="2.26" fill="#482ea6"/>
<circle cx="357.6" cy="240.55" r="1.28" fill="#482ea6"/>
<circle cx="370.57" cy="256.44" r="1.19" fill="#5638b0"/>
<circle cx="370.82" cy="255.06" r="1.04" fill="#5638b0"/>
<circle cx="366.18" cy="243.47" r="0.75" fill="#5638b0"/>
<circle cx="349.6" cy="250.41" r="1.22" fill="#5638b0"/>
<circle cx="362.08" cy="237.03" r="0.95" fill="#5638b0"/>
<circle cx="359.42" cy="236.63" r="0.99" fill="#5638b0"/>
<circle cx="372.85" cy="236.02" r="1.14" fill="#5638b0"/>
<circle cx="355.29" cy="267.12" r="0.76" fill="#5638b0"/>
<circle cx="353.66" cy="238.96" r="1.21" fill="#5638b0"/>
<circle cx="353.29" cy="267.97" r="1.01" fill="#5638b0"/>
<circle cx="371.06" cy="250.39" r="0.72" fill="#5638b0"/>
<circle cx="355.43" cy="246.73" r="1.19" fill="#5638b0"/>
<circle cx="350.46" cy="256.1" r="0.88" fill="#5638b0"/>
<circle cx="379.74" cy="256.66" r="0.84" fill="#5638b0"/>
<circle cx="377.83" cy="274.12" r="1.01" fill="#5638b0"/>
<circle cx="377.48" cy="247.89" r="0.84" fill="#5638b0"/>
<circle cx="349.78" cy="264.11" r="1.32" fill="#5638b0"/>
<circle cx="355.14" cy="266.96" r="0.8" fill="#5638b0"/>
<circle cx="347.58" cy="256.25" r="1.2" fill="#5638b0"/>
<circle cx="385.75" cy="249.94" r="0.89" fill="#5638b0"/>
<circle cx="370.87" cy="269.6" r="1.05" fill="#5638b0"/>
<circle cx="359.65" cy="274.28" r="1.02" fill="#5638b0"/>
<circle cx="371.18" cy="257.57" r="0.73" fill="#5638b0"/>
<circle cx="363.43" cy="239.74" r="1.25" fill="#5638b0"/>
<circle cx="375.75" cy="256.77" r="0.53" fill="#7a64c4"/>
<circle cx="387.5" cy="258.9" r="0.44" fill="#7a64c4"/>
<circle cx="370.72" cy="259.49" r="0.6" fill="#7a64c4"/>
<circle cx="351.22" cy="261.56" r="0.61" fill="#7a64c4"/>
<circle cx="375.3" cy="235.65" r="0.62" fill="#7a64c4"/>
<circle cx="372.45" cy="270.2" r="0.42" fill="#7a64c4"/>
<circle cx="382.78" cy="256.82" r="0.64" fill="#7a64c4"/>
<circle cx="372.65" cy="266.16" r="0.49" fill="#7a64c4"/>
<circle cx="362.54" cy="240.79" r="0.6" fill="#7a64c4"/>
<circle cx="368.24" cy="242.01" r="0.67" fill="#7a64c4"/>
<circle cx="373.1" cy="252.19" r="0.72" fill="#7a64c4"/>
<circle cx="366.33" cy="247.99" r="0.53" fill="#7a64c4"/>
<circle cx="352.91" cy="240.91" r="0.5" fill="#7a64c4"/>
<circle cx="348.97" cy="247.16" r="0.67" fill="#7a64c4"/>
<circle cx="381.77" cy="250.66" r="0.61" fill="#7a64c4"/>
<circle cx="372.93" cy="273.75" r="0.68" fill="#7a64c4"/>
<circle cx="355.97" cy="241.32" r="0.44" fill="#7a64c4"/>
<circle cx="385.32" cy="242.99" r="0.74" fill="#7a64c4"/>
<circle cx="348.66" cy="251.3" r="0.48" fill="#7a64c4"/>
<circle cx="384.88" cy="244.89" r="0.49" fill="#7a64c4"/>
<circle cx="380.38" cy="263.06" r="0.57" fill="#7a64c4"/>
<circle cx="369.46" cy="240.54" r="0.36" fill="#7a64c4"/>
<circle cx="369.72" cy="250.61" r="0.67" fill="#7a64c4"/>
<circle cx="373.63" cy="267.07" r="0.67" fill="#7a64c4"/>
<circle cx="373.09" cy="262.35" r="0.56" fill="#7a64c4"/>
<circle cx="364.37" cy="235.91" r="0.63" fill="#7a64c4"/>
<circle cx="382.25" cy="250.64" r="0.73" fill="#7a64c4"/>
<circle cx="376.58" cy="261.13" r="0.56" fill="#7a64c4"/>
<circle cx="363.01" cy="273.99" r="0.61" fill="#7a64c4"/>
<circle cx="347.7" cy="252.92" r="0.57" fill="#7a64c4"/>
<circle cx="362.57" cy="268.38" r="0.69" fill="#7a64c4"/>
<circle cx="375.84" cy="249.93" r="0.69" fill="#7a64c4"/>
<circle cx="383.32" cy="252.66" r="0.58" fill="#7a64c4"/>
<circle cx="372.58" cy="271.15" r="0.55" fill="#7a64c4"/>
<circle cx="364.81" cy="253.55" r="0.74" fill="#7a64c4"/>
</g></g>
<circle cx="367.7" cy="309.6" r="22" fill="url(#gP)"/>
<circle cx="367.7" cy="309.6" r="20.4" fill="none" stroke="#d8d4e6" stroke-width="1.6" opacity="0.5"/>
<circle cx="367.7" cy="309.6" r="19" fill="none" stroke="#c9c4d8" stroke-width="0.5"/>
<line x1="347.7" y1="308.1" x2="387.7" y2="308.1" stroke="#f6f6f8" stroke-width="1"/>
<g filter="url(#b0)">
<circle cx="377.01" cy="325.32" r="1.14" fill="#2e2178"/>
<circle cx="357.56" cy="310.94" r="1.39" fill="#2e2178"/>
<circle cx="373.3" cy="294.88" r="0.98" fill="#2e2178"/>
<circle cx="367.81" cy="310.84" r="0.85" fill="#2e2178"/>
<circle cx="362.72" cy="306.64" r="1.39" fill="#2e2178"/>
<circle cx="368.88" cy="320.15" r="0.7" fill="#2e2178"/>
<circle cx="386.61" cy="309.31" r="1.54" fill="#2e2178"/>
<circle cx="364.67" cy="306.9" r="0.82" fill="#2e2178"/>
<circle cx="360.21" cy="309.72" r="1.7" fill="#2e2178"/>
<circle cx="361.84" cy="315.97" r="1.44" fill="#2e2178"/>
<circle cx="355.5" cy="305.47" r="0.96" fill="#2e2178"/>
<circle cx="369.34" cy="313.51" r="1.52" fill="#2e2178"/>
<circle cx="369.55" cy="328.95" r="0.75" fill="#2e2178"/>
<circle cx="369.05" cy="292.89" r="1.29" fill="#2e2178"/>
<circle cx="378.61" cy="320.16" r="1.45" fill="#2e2178"/>
<circle cx="356.49" cy="316.75" r="0.92" fill="#2e2178"/>
<circle cx="374.32" cy="310.73" r="1.27" fill="#2e2178"/>
<circle cx="383.18" cy="308.9" r="0.97" fill="#2e2178"/>
<circle cx="351.26" cy="304.21" r="0.42" fill="#5a4a9a"/>
<circle cx="356.14" cy="300.17" r="0.54" fill="#5a4a9a"/>
<circle cx="371.18" cy="317.08" r="0.45" fill="#5a4a9a"/>
<circle cx="378.26" cy="304.39" r="0.53" fill="#5a4a9a"/>
<circle cx="365.46" cy="315.62" r="0.37" fill="#5a4a9a"/>
<circle cx="374.57" cy="293.36" r="0.46" fill="#5a4a9a"/>
<circle cx="361.01" cy="294.58" r="0.62" fill="#5a4a9a"/>
<circle cx="380.02" cy="306.29" r="0.65" fill="#5a4a9a"/>
<circle cx="382.62" cy="305.91" r="0.61" fill="#5a4a9a"/>
<circle cx="355.46" cy="310.3" r="0.42" fill="#5a4a9a"/>
<circle cx="373.44" cy="303.94" r="0.37" fill="#5a4a9a"/>
<circle cx="373.69" cy="293.06" r="0.49" fill="#5a4a9a"/>
</g>
<circle cx="412.8" cy="255.8" r="22" fill="url(#gA)"/>
<g clip-path="url(#cp12)">
<clipPath id="cp12"><circle cx="412.8" cy="255.8" r="21.4"/></clipPath>
<circle cx="396.95" cy="258.35" r="6.33" fill="#c8bfe2" opacity="0.3" filter="url(#b2)"/>
<circle cx="414.09" cy="257.41" r="4.87" fill="#c8bfe2" opacity="0.3" filter="url(#b2)"/>
<circle cx="410.12" cy="273.42" r="6.45" fill="#c8bfe2" opacity="0.3" filter="url(#b2)"/>
<circle cx="400.91" cy="247" r="6.31" fill="#c8bfe2" opacity="0.3" filter="url(#b2)"/>
<circle cx="420.83" cy="266.19" r="3.81" fill="#c8bfe2" opacity="0.3" filter="url(#b2)"/>
<circle cx="416.79" cy="253.13" r="7.09" fill="#c8bfe2" opacity="0.3" filter="url(#b2)"/>
<circle cx="427.44" cy="263.21" r="4.68" fill="#c8bfe2" opacity="0.3" filter="url(#b2)"/>
<circle cx="397.79" cy="266.05" r="3.09" fill="#c8bfe2" opacity="0.3" filter="url(#b2)"/>
<g filter="url(#b0)">
<circle cx="397.98" cy="264.09" r="1.6" fill="#482ea6"/>
<circle cx="440.36" cy="261.98" r="1.96" fill="#482ea6"/>
<circle cx="400.88" cy="269.65" r="1.25" fill="#482ea6"/>
<circle cx="423.95" cy="270.47" r="2.09" fill="#482ea6"/>
<circle cx="407.77" cy="246.79" r="1.77" fill="#482ea6"/>
<circle cx="408.32" cy="250.2" r="1.89" fill="#482ea6"/>
<circle cx="416.26" cy="274.36" r="1.75" fill="#482ea6"/>
<circle cx="410.42" cy="240.21" r="1.54" fill="#482ea6"/>
<circle cx="405.62" cy="235.07" r="1.7" fill="#482ea6"/>
<circle cx="421.03" cy="273.85" r="2.33" fill="#482ea6"/>
<circle cx="415.76" cy="246.96" r="1.75" fill="#482ea6"/>
<circle cx="443.09" cy="262.55" r="1.75" fill="#482ea6"/>
<circle cx="429.94" cy="264.62" r="1.46" fill="#482ea6"/>
<circle cx="417.95" cy="258.64" r="1.56" fill="#482ea6"/>
<circle cx="395.01" cy="262.22" r="1.9" fill="#482ea6"/>
<circle cx="430.04" cy="266.39" r="2" fill="#482ea6"/>
<circle cx="417.33" cy="275.54" r="2" fill="#482ea6"/>
<circle cx="424.7" cy="268.7" r="1.67" fill="#482ea6"/>
<circle cx="396.63" cy="249.41" r="2.35" fill="#482ea6"/>
<circle cx="398.13" cy="264.15" r="2.13" fill="#482ea6"/>
<circle cx="401.44" cy="249.54" r="1.22" fill="#5638b0"/>
<circle cx="410.15" cy="254.68" r="1.33" fill="#5638b0"/>
<circle cx="418.96" cy="235.89" r="1.07" fill="#5638b0"/>
<circle cx="417.29" cy="237.91" r="0.92" fill="#5638b0"/>
<circle cx="429.52" cy="248.44" r="1.14" fill="#5638b0"/>
<circle cx="424.19" cy="267.15" r="0.98" fill="#5638b0"/>
<circle cx="413.17" cy="269.83" r="1.18" fill="#5638b0"/>
<circle cx="416.96" cy="260.95" r="1.19" fill="#5638b0"/>
<circle cx="413.88" cy="237.97" r="0.96" fill="#5638b0"/>
<circle cx="427.9" cy="258.65" r="0.83" fill="#5638b0"/>
<circle cx="406.43" cy="244.64" r="0.93" fill="#5638b0"/>
<circle cx="414.61" cy="255.13" r="0.9" fill="#5638b0"/>
<circle cx="417.16" cy="269.6" r="1.34" fill="#5638b0"/>
<circle cx="393.74" cy="255.68" r="1.12" fill="#5638b0"/>
<circle cx="418.86" cy="246.62" r="1.3" fill="#5638b0"/>
<circle cx="417.95" cy="246.66" r="1.23" fill="#5638b0"/>
<circle cx="398.51" cy="266.84" r="1.38" fill="#5638b0"/>
<circle cx="395.68" cy="249.77" r="1.21" fill="#5638b0"/>
<circle cx="405.98" cy="269.78" r="0.92" fill="#5638b0"/>
<circle cx="419.67" cy="263.68" r="0.88" fill="#5638b0"/>
<circle cx="431.71" cy="261.41" r="1.36" fill="#5638b0"/>
<circle cx="401.64" cy="247.82" r="1.33" fill="#5638b0"/>
<circle cx="409.43" cy="262.84" r="1.29" fill="#5638b0"/>
<circle cx="397.67" cy="243.52" r="1.13" fill="#5638b0"/>
<circle cx="411.64" cy="269.79" r="0.97" fill="#5638b0"/>
<circle cx="398.57" cy="266.2" r="0.88" fill="#5638b0"/>
<circle cx="433.55" cy="251.98" r="1.31" fill="#5638b0"/>
<circle cx="418.5" cy="243.92" r="0.91" fill="#5638b0"/>
<circle cx="426.11" cy="271.34" r="0.85" fill="#5638b0"/>
<circle cx="415.31" cy="253.44" r="0.71" fill="#5638b0"/>
<circle cx="417.03" cy="263.62" r="0.91" fill="#5638b0"/>
<circle cx="416.27" cy="264.58" r="1.3" fill="#5638b0"/>
<circle cx="407.29" cy="251.42" r="1.08" fill="#5638b0"/>
<circle cx="397.65" cy="260.89" r="1.26" fill="#5638b0"/>
<circle cx="395.27" cy="255.22" r="1.14" fill="#5638b0"/>
<circle cx="401.97" cy="264.94" r="1.2" fill="#5638b0"/>
<circle cx="409.03" cy="276.62" r="1.3" fill="#5638b0"/>
<circle cx="404.93" cy="235.78" r="1" fill="#5638b0"/>
<circle cx="398.56" cy="265.36" r="1.29" fill="#5638b0"/>
<circle cx="424.47" cy="268.12" r="0.74" fill="#5638b0"/>
<circle cx="423.77" cy="256.38" r="0.4" fill="#7a64c4"/>
<circle cx="405.97" cy="239.95" r="0.74" fill="#7a64c4"/>
<circle cx="431.23" cy="251.13" r="0.73" fill="#7a64c4"/>
<circle cx="423.14" cy="257.64" r="0.72" fill="#7a64c4"/>
<circle cx="402.92" cy="257.34" r="0.65" fill="#7a64c4"/>
<circle cx="398.42" cy="263.29" r="0.48" fill="#7a64c4"/>
<circle cx="413.14" cy="262.29" r="0.59" fill="#7a64c4"/>
<circle cx="433.7" cy="249.41" r="0.66" fill="#7a64c4"/>
<circle cx="424.9" cy="250.42" r="0.47" fill="#7a64c4"/>
<circle cx="427.91" cy="247.92" r="0.62" fill="#7a64c4"/>
<circle cx="423.28" cy="256.63" r="0.54" fill="#7a64c4"/>
<circle cx="410.42" cy="235.95" r="0.65" fill="#7a64c4"/>
<circle cx="405.54" cy="267.29" r="0.69" fill="#7a64c4"/>
<circle cx="428.09" cy="254.8" r="0.43" fill="#7a64c4"/>
<circle cx="401.37" cy="244.45" r="0.49" fill="#7a64c4"/>
<circle cx="414.47" cy="269.35" r="0.59" fill="#7a64c4"/>
<circle cx="424.11" cy="267.37" r="0.73" fill="#7a64c4"/>
<circle cx="412.45" cy="244.76" r="0.52" fill="#7a64c4"/>
<circle cx="427.92" cy="267.12" r="0.6" fill="#7a64c4"/>
<circle cx="420.39" cy="270.21" r="0.59" fill="#7a64c4"/>
<circle cx="400.83" cy="249.49" r="0.47" fill="#7a64c4"/>
<circle cx="399.35" cy="273.18" r="0.48" fill="#7a64c4"/>
<circle cx="397.88" cy="255.57" r="0.42" fill="#7a64c4"/>
<circle cx="404.75" cy="261.67" r="0.48" fill="#7a64c4"/>
<circle cx="404.06" cy="265.45" r="0.73" fill="#7a64c4"/>
<circle cx="409.12" cy="267.94" r="0.61" fill="#7a64c4"/>
<circle cx="400.18" cy="265.31" r="0.61" fill="#7a64c4"/>
<circle cx="428.93" cy="263.85" r="0.39" fill="#7a64c4"/>
<circle cx="412.77" cy="275.6" r="0.75" fill="#7a64c4"/>
<circle cx="408.6" cy="247.71" r="0.53" fill="#7a64c4"/>
<circle cx="408.69" cy="275.55" r="0.44" fill="#7a64c4"/>
<circle cx="418.62" cy="272.38" r="0.6" fill="#7a64c4"/>
<circle cx="399.93" cy="247.66" r="0.73" fill="#7a64c4"/>
<circle cx="392.23" cy="261.3" r="0.51" fill="#7a64c4"/>
<circle cx="399.92" cy="258.65" r="0.64" fill="#7a64c4"/>
<circle cx="412.9" cy="245.04" r="0.56" fill="#7a64c4"/>
<circle cx="410.51" cy="240.39" r="0.61" fill="#7a64c4"/>
<circle cx="398.94" cy="243.4" r="0.49" fill="#7a64c4"/>
<circle cx="411.6" cy="259.04" r="0.71" fill="#7a64c4"/>
<circle cx="416.21" cy="242.49" r="0.74" fill="#7a64c4"/>
<circle cx="419.8" cy="250.87" r="0.68" fill="#7a64c4"/>
<circle cx="401.96" cy="261.68" r="0.45" fill="#7a64c4"/>
<circle cx="408.51" cy="258.38" r="0.37" fill="#7a64c4"/>
<circle cx="421.85" cy="263.97" r="0.41" fill="#7a64c4"/>
<circle cx="427.27" cy="269.7" r="0.5" fill="#7a64c4"/>
<circle cx="395.77" cy="256.84" r="0.72" fill="#7a64c4"/>
<circle cx="419.18" cy="264.15" r="0.69" fill="#7a64c4"/>
<circle cx="430.71" cy="244.38" r="0.56" fill="#7a64c4"/>
<circle cx="406.39" cy="262.89" r="0.71" fill="#7a64c4"/>
<circle cx="414.37" cy="239.54" r="0.67" fill="#7a64c4"/>
<circle cx="411.72" cy="271.84" r="0.71" fill="#7a64c4"/>
<circle cx="426.22" cy="266.7" r="0.42" fill="#7a64c4"/>
<circle cx="423.36" cy="238.63" r="0.61" fill="#7a64c4"/>
<circle cx="409.83" cy="257.06" r="0.55" fill="#7a64c4"/>
<circle cx="403.98" cy="266.57" r="0.38" fill="#7a64c4"/>
<circle cx="426.74" cy="248.17" r="0.57" fill="#7a64c4"/>
<circle cx="424.21" cy="238.38" r="0.57" fill="#7a64c4"/>
<circle cx="393.32" cy="250.27" r="0.5" fill="#7a64c4"/>
<circle cx="415.58" cy="253.79" r="0.67" fill="#7a64c4"/>
<circle cx="395.71" cy="252.79" r="0.75" fill="#7a64c4"/>
</g></g>
<circle cx="412.8" cy="309.6" r="22" fill="url(#gP)"/>
<circle cx="412.8" cy="309.6" r="20.4" fill="none" stroke="#d8d4e6" stroke-width="1.6" opacity="0.5"/>
<circle cx="412.8" cy="309.6" r="19" fill="none" stroke="#c9c4d8" stroke-width="0.5"/>
<line x1="392.8" y1="308.1" x2="432.8" y2="308.1" stroke="#f6f6f8" stroke-width="1"/>
<g filter="url(#b0)">
<circle cx="420.76" cy="307.46" r="0.7" fill="#2e2178"/>
<circle cx="422.24" cy="309.52" r="0.72" fill="#2e2178"/>
<circle cx="405.29" cy="299.07" r="1.57" fill="#2e2178"/>
<circle cx="429.23" cy="301.08" r="0.7" fill="#2e2178"/>
<circle cx="425.21" cy="298.14" r="0.81" fill="#2e2178"/>
<circle cx="395.99" cy="302.16" r="1.11" fill="#2e2178"/>
<circle cx="414.74" cy="314.08" r="1.01" fill="#2e2178"/>
<circle cx="398.81" cy="308.07" r="1.18" fill="#2e2178"/>
<circle cx="423.35" cy="303.49" r="0.85" fill="#2e2178"/>
<circle cx="402.38" cy="303.65" r="1.09" fill="#2e2178"/>
<circle cx="398.84" cy="305.72" r="1.2" fill="#2e2178"/>
<circle cx="406.37" cy="308.45" r="1.79" fill="#2e2178"/>
<circle cx="403.89" cy="320.98" r="0.88" fill="#2e2178"/>
<circle cx="407.25" cy="313.6" r="1.58" fill="#2e2178"/>
<circle cx="420.51" cy="323.92" r="0.83" fill="#2e2178"/>
<circle cx="406.59" cy="321.19" r="0.74" fill="#2e2178"/>
<circle cx="428.47" cy="313.31" r="1.4" fill="#2e2178"/>
<circle cx="406.85" cy="301.72" r="1.23" fill="#2e2178"/>
<circle cx="426.15" cy="314.13" r="1.45" fill="#2e2178"/>
<circle cx="425.93" cy="302.49" r="1.49" fill="#2e2178"/>
<circle cx="396.88" cy="309.75" r="1.08" fill="#2e2178"/>
<circle cx="431.74" cy="308.56" r="0.95" fill="#2e2178"/>
<circle cx="410.52" cy="293.72" r="0.46" fill="#5a4a9a"/>
<circle cx="416.66" cy="291.91" r="0.53" fill="#5a4a9a"/>
<circle cx="415.32" cy="308.65" r="0.5" fill="#5a4a9a"/>
<circle cx="405.06" cy="300.87" r="0.4" fill="#5a4a9a"/>
<circle cx="408.11" cy="297.28" r="0.43" fill="#5a4a9a"/>
<circle cx="431.79" cy="314.71" r="0.46" fill="#5a4a9a"/>
<circle cx="419.66" cy="315.89" r="0.43" fill="#5a4a9a"/>
<circle cx="418.47" cy="303.27" r="0.43" fill="#5a4a9a"/>
<circle cx="424.02" cy="317.47" r="0.41" fill="#5a4a9a"/>
<circle cx="403.24" cy="323.83" r="0.63" fill="#5a4a9a"/>
<circle cx="414.77" cy="306.22" r="0.46" fill="#5a4a9a"/>
<circle cx="414.92" cy="306.65" r="0.41" fill="#5a4a9a"/>
</g>
<circle cx="458" cy="255.8" r="22" fill="url(#gA)"/>
<g clip-path="url(#cp13)">
<clipPath id="cp13"><circle cx="458" cy="255.8" r="21.4"/></clipPath>
<circle cx="457.07" cy="272.16" r="6.42" fill="#c8bfe2" opacity="0.3" filter="url(#b2)"/>
<circle cx="462.99" cy="248.88" r="4.15" fill="#c8bfe2" opacity="0.3" filter="url(#b2)"/>
<circle cx="463.66" cy="263.3" r="6.67" fill="#c8bfe2" opacity="0.3" filter="url(#b2)"/>
<circle cx="467.87" cy="266.33" r="4.07" fill="#c8bfe2" opacity="0.3" filter="url(#b2)"/>
<circle cx="454.4" cy="268.3" r="7.19" fill="#c8bfe2" opacity="0.3" filter="url(#b2)"/>
<circle cx="456.15" cy="254.3" r="4.38" fill="#c8bfe2" opacity="0.3" filter="url(#b2)"/>
<circle cx="469.17" cy="270.52" r="7.05" fill="#c8bfe2" opacity="0.3" filter="url(#b2)"/>
<circle cx="464.21" cy="238.91" r="6.72" fill="#c8bfe2" opacity="0.3" filter="url(#b2)"/>
<g filter="url(#b0)">
<circle cx="457.92" cy="247.72" r="1.68" fill="#482ea6"/>
<circle cx="440.16" cy="259.93" r="1.58" fill="#482ea6"/>
<circle cx="444.74" cy="262.45" r="1.74" fill="#482ea6"/>
<circle cx="442.48" cy="254.34" r="1.27" fill="#482ea6"/>
<circle cx="445.03" cy="242.15" r="2.23" fill="#482ea6"/>
<circle cx="457.04" cy="257.37" r="1.93" fill="#482ea6"/>
<circle cx="454.86" cy="260.47" r="2.09" fill="#482ea6"/>
<circle cx="453.17" cy="239.01" r="1.95" fill="#482ea6"/>
<circle cx="454.94" cy="245.52" r="2.22" fill="#482ea6"/>
<circle cx="468.37" cy="235.91" r="1.84" fill="#482ea6"/>
<circle cx="441.28" cy="261.3" r="1.25" fill="#482ea6"/>
<circle cx="474.47" cy="250.91" r="2.15" fill="#482ea6"/>
<circle cx="477.66" cy="252.19" r="1.78" fill="#482ea6"/>
<circle cx="447.84" cy="263.24" r="1.45" fill="#482ea6"/>
<circle cx="471.33" cy="262.85" r="2.18" fill="#482ea6"/>
<circle cx="448.16" cy="264.66" r="1.79" fill="#482ea6"/>
<circle cx="459.69" cy="265.67" r="1.59" fill="#482ea6"/>
<circle cx="462.64" cy="262.82" r="2.17" fill="#482ea6"/>
<circle cx="452.67" cy="261.26" r="1.42" fill="#482ea6"/>
<circle cx="436.95" cy="254.94" r="1.51" fill="#482ea6"/>
<circle cx="462.27" cy="257.76" r="1.95" fill="#482ea6"/>
<circle cx="437.19" cy="262.63" r="1.18" fill="#482ea6"/>
<circle cx="475.68" cy="250.25" r="1.3" fill="#482ea6"/>
<circle cx="444.41" cy="245.5" r="1.74" fill="#482ea6"/>
<circle cx="443.55" cy="247.23" r="0.95" fill="#5638b0"/>
<circle cx="453.09" cy="272.51" r="1.32" fill="#5638b0"/>
<circle cx="456.64" cy="234.95" r="1.34" fill="#5638b0"/>
<circle cx="455.25" cy="249.81" r="0.75" fill="#5638b0"/>
<circle cx="456.43" cy="273.54" r="1.28" fill="#5638b0"/>
<circle cx="459.38" cy="275.26" r="0.84" fill="#5638b0"/>
<circle cx="453.99" cy="258.99" r="0.74" fill="#5638b0"/>
<circle cx="441.83" cy="241.84" r="0.96" fill="#5638b0"/>
<circle cx="451.24" cy="260.94" r="0.88" fill="#5638b0"/>
<circle cx="446.44" cy="267.7" r="1.07" fill="#5638b0"/>
<circle cx="457.12" cy="262.37" r="1.14" fill="#5638b0"/>
<circle cx="469.6" cy="274.22" r="1.19" fill="#5638b0"/>
<circle cx="474.32" cy="246.61" r="0.97" fill="#5638b0"/>
<circle cx="444" cy="267.36" r="1.07" fill="#5638b0"/>
<circle cx="446.67" cy="253.48" r="1.39" fill="#5638b0"/>
<circle cx="478.58" cy="249.68" r="0.81" fill="#5638b0"/>
<circle cx="468.13" cy="238.92" r="0.81" fill="#5638b0"/>
<circle cx="439.01" cy="245.64" r="1.24" fill="#5638b0"/>
<circle cx="453.2" cy="234.86" r="1.04" fill="#5638b0"/>
<circle cx="440.77" cy="255.71" r="0.76" fill="#5638b0"/>
<circle cx="471.67" cy="246.34" r="0.74" fill="#5638b0"/>
<circle cx="452.19" cy="235.62" r="0.72" fill="#5638b0"/>
<circle cx="438.99" cy="251.97" r="0.91" fill="#5638b0"/>
<circle cx="445.02" cy="243.7" r="1" fill="#5638b0"/>
<circle cx="458.09" cy="238.78" r="0.92" fill="#5638b0"/>
<circle cx="441.38" cy="255.38" r="1.33" fill="#5638b0"/>
<circle cx="448.17" cy="241.74" r="1.39" fill="#5638b0"/>
<circle cx="459.69" cy="274.25" r="0.8" fill="#5638b0"/>
<circle cx="440" cy="259.61" r="0.86" fill="#5638b0"/>
<circle cx="456.6" cy="262.36" r="0.79" fill="#5638b0"/>
<circle cx="461.09" cy="262.2" r="0.8" fill="#5638b0"/>
<circle cx="457.67" cy="252.26" r="0.95" fill="#5638b0"/>
<circle cx="443.33" cy="247.97" r="1.06" fill="#5638b0"/>
<circle cx="476.59" cy="264.18" r="0.9" fill="#5638b0"/>
<circle cx="452.35" cy="261.13" r="0.93" fill="#5638b0"/>
<circle cx="441.13" cy="246.53" r="0.91" fill="#5638b0"/>
<circle cx="461.21" cy="254.24" r="0.64" fill="#7a64c4"/>
<circle cx="446.27" cy="265.56" r="0.71" fill="#7a64c4"/>
<circle cx="468.21" cy="259.91" r="0.35" fill="#7a64c4"/>
<circle cx="436.56" cy="251.38" r="0.69" fill="#7a64c4"/>
<circle cx="443.82" cy="253.01" r="0.57" fill="#7a64c4"/>
<circle cx="475.4" cy="257.04" r="0.7" fill="#7a64c4"/>
<circle cx="457.96" cy="237.98" r="0.73" fill="#7a64c4"/>
<circle cx="441.58" cy="249.94" r="0.48" fill="#7a64c4"/>
<circle cx="466.79" cy="255.34" r="0.42" fill="#7a64c4"/>
<circle cx="471.67" cy="260.78" r="0.74" fill="#7a64c4"/>
<circle cx="466.42" cy="273.17" r="0.51" fill="#7a64c4"/>
<circle cx="471.42" cy="263.25" r="0.56" fill="#7a64c4"/>
<circle cx="467.94" cy="264.16" r="0.37" fill="#7a64c4"/>
<circle cx="466.29" cy="238.25" r="0.65" fill="#7a64c4"/>
<circle cx="474.26" cy="266.34" r="0.47" fill="#7a64c4"/>
<circle cx="454.69" cy="266.57" r="0.67" fill="#7a64c4"/>
<circle cx="454.93" cy="241.92" r="0.46" fill="#7a64c4"/>
<circle cx="457.57" cy="245.68" r="0.69" fill="#7a64c4"/>
<circle cx="462.11" cy="258.22" r="0.4" fill="#7a64c4"/>
<circle cx="458.14" cy="247.29" r="0.75" fill="#7a64c4"/>
<circle cx="453.06" cy="250.89" r="0.55" fill="#7a64c4"/>
<circle cx="454.17" cy="253.06" r="0.71" fill="#7a64c4"/>
<circle cx="450.19" cy="253.53" r="0.54" fill="#7a64c4"/>
<circle cx="438.01" cy="258.56" r="0.4" fill="#7a64c4"/>
<circle cx="454.4" cy="240.83" r="0.63" fill="#7a64c4"/>
<circle cx="460.47" cy="235.6" r="0.46" fill="#7a64c4"/>
<circle cx="479.01" cy="257.83" r="0.63" fill="#7a64c4"/>
<circle cx="452.44" cy="249.72" r="0.49" fill="#7a64c4"/>
<circle cx="444.91" cy="262.1" r="0.49" fill="#7a64c4"/>
<circle cx="451.85" cy="267.25" r="0.43" fill="#7a64c4"/>
<circle cx="463.26" cy="262.85" r="0.42" fill="#7a64c4"/>
<circle cx="453.3" cy="258.11" r="0.73" fill="#7a64c4"/>
<circle cx="450.97" cy="258.99" r="0.51" fill="#7a64c4"/>
<circle cx="460.23" cy="264.14" r="0.73" fill="#7a64c4"/>
<circle cx="462.26" cy="242.59" r="0.51" fill="#7a64c4"/>
<circle cx="469.83" cy="248.47" r="0.38" fill="#7a64c4"/>
<circle cx="458.43" cy="264.82" r="0.73" fill="#7a64c4"/>
<circle cx="458.03" cy="250.92" r="0.53" fill="#7a64c4"/>
<circle cx="474.21" cy="268.04" r="0.55" fill="#7a64c4"/>
<circle cx="450.05" cy="258.25" r="0.66" fill="#7a64c4"/>
<circle cx="476.01" cy="260.84" r="0.36" fill="#7a64c4"/>
<circle cx="462.58" cy="254.99" r="0.46" fill="#7a64c4"/>
<circle cx="440.77" cy="264.64" r="0.43" fill="#7a64c4"/>
<circle cx="469.67" cy="248.21" r="0.6" fill="#7a64c4"/>
<circle cx="448.72" cy="259.49" r="0.65" fill="#7a64c4"/>
<circle cx="447.23" cy="264.35" r="0.44" fill="#7a64c4"/>
<circle cx="452.96" cy="247.6" r="0.7" fill="#7a64c4"/>
<circle cx="459.19" cy="259.86" r="0.36" fill="#7a64c4"/>
<circle cx="440.01" cy="252.99" r="0.51" fill="#7a64c4"/>
<circle cx="471.5" cy="247.93" r="0.7" fill="#7a64c4"/>
</g></g>
<circle cx="458" cy="309.6" r="22" fill="url(#gP)"/>
<circle cx="458" cy="309.6" r="20.4" fill="none" stroke="#d8d4e6" stroke-width="1.6" opacity="0.5"/>
<circle cx="458" cy="309.6" r="19" fill="none" stroke="#c9c4d8" stroke-width="0.5"/>
<line x1="438" y1="308.1" x2="478" y2="308.1" stroke="#f6f6f8" stroke-width="1"/>
<g filter="url(#b0)">
<circle cx="472.65" cy="318.08" r="0.9" fill="#2e2178"/>
<circle cx="450.2" cy="308.11" r="0.74" fill="#2e2178"/>
<circle cx="448.28" cy="313.13" r="0.93" fill="#2e2178"/>
<circle cx="464.37" cy="310.6" r="1.25" fill="#2e2178"/>
<circle cx="444.14" cy="317.08" r="1.29" fill="#2e2178"/>
<circle cx="454.66" cy="313.69" r="1.37" fill="#2e2178"/>
<circle cx="442.88" cy="300.12" r="1.12" fill="#2e2178"/>
<circle cx="471.03" cy="307.18" r="1.34" fill="#2e2178"/>
<circle cx="446.71" cy="321.82" r="1.18" fill="#2e2178"/>
<circle cx="455.46" cy="315.52" r="0.95" fill="#2e2178"/>
<circle cx="454.61" cy="293.04" r="0.92" fill="#2e2178"/>
<circle cx="452.13" cy="302.28" r="0.74" fill="#2e2178"/>
<circle cx="449.16" cy="327.39" r="0.74" fill="#2e2178"/>
<circle cx="463.2" cy="314.15" r="0.7" fill="#2e2178"/>
<circle cx="455.34" cy="326.04" r="1.44" fill="#2e2178"/>
<circle cx="451.5" cy="321.29" r="0.79" fill="#2e2178"/>
<circle cx="451.45" cy="327.86" r="1.03" fill="#2e2178"/>
<circle cx="457.62" cy="316.79" r="1.38" fill="#2e2178"/>
<circle cx="452.67" cy="290.3" r="0.76" fill="#2e2178"/>
<circle cx="466.47" cy="306.58" r="1.75" fill="#2e2178"/>
<circle cx="470.11" cy="314.04" r="0.36" fill="#5a4a9a"/>
<circle cx="464.06" cy="294.17" r="0.64" fill="#5a4a9a"/>
<circle cx="464.59" cy="291.27" r="0.51" fill="#5a4a9a"/>
<circle cx="475.26" cy="308.32" r="0.45" fill="#5a4a9a"/>
<circle cx="470.12" cy="307.63" r="0.41" fill="#5a4a9a"/>
<circle cx="470.13" cy="315.86" r="0.41" fill="#5a4a9a"/>
<circle cx="475.82" cy="301.7" r="0.41" fill="#5a4a9a"/>
<circle cx="469.58" cy="318.41" r="0.4" fill="#5a4a9a"/>
<circle cx="440.64" cy="304.72" r="0.43" fill="#5a4a9a"/>
<circle cx="441.27" cy="318.56" r="0.48" fill="#5a4a9a"/>
</g>
<circle cx="503" cy="255.8" r="22" fill="url(#gA)"/>
<g clip-path="url(#cp14)">
<clipPath id="cp14"><circle cx="503" cy="255.8" r="21.4"/></clipPath>
<circle cx="516" cy="266.12" r="6.26" fill="#c8bfe2" opacity="0.3" filter="url(#b2)"/>
<circle cx="512.59" cy="252.03" r="4.28" fill="#c8bfe2" opacity="0.3" filter="url(#b2)"/>
<circle cx="501.39" cy="239.81" r="4.51" fill="#c8bfe2" opacity="0.3" filter="url(#b2)"/>
<circle cx="497.99" cy="244.38" r="6.89" fill="#c8bfe2" opacity="0.3" filter="url(#b2)"/>
<circle cx="509.88" cy="262.14" r="7.51" fill="#c8bfe2" opacity="0.3" filter="url(#b2)"/>
<circle cx="496.66" cy="263.66" r="7.02" fill="#c8bfe2" opacity="0.3" filter="url(#b2)"/>
<circle cx="497.81" cy="250.16" r="5.76" fill="#c8bfe2" opacity="0.3" filter="url(#b2)"/>
<circle cx="498.86" cy="248.9" r="6.26" fill="#c8bfe2" opacity="0.3" filter="url(#b2)"/>
<g filter="url(#b0)">
<circle cx="509.33" cy="275.05" r="1.25" fill="#482ea6"/>
<circle cx="502.93" cy="251.43" r="1.22" fill="#482ea6"/>
<circle cx="496.64" cy="241.02" r="1.73" fill="#482ea6"/>
<circle cx="497.41" cy="251.98" r="1.41" fill="#482ea6"/>
<circle cx="521.89" cy="248.19" r="1.84" fill="#482ea6"/>
<circle cx="486" cy="259.91" r="1.13" fill="#482ea6"/>
<circle cx="492.81" cy="266.94" r="1.79" fill="#482ea6"/>
<circle cx="486.51" cy="240.37" r="1.6" fill="#482ea6"/>
<circle cx="487.19" cy="262.26" r="1.76" fill="#482ea6"/>
<circle cx="510.32" cy="235.31" r="2.11" fill="#482ea6"/>
<circle cx="488.75" cy="260.56" r="1.42" fill="#482ea6"/>
<circle cx="513.3" cy="249.89" r="1.58" fill="#482ea6"/>
<circle cx="485.4" cy="243.7" r="1.76" fill="#482ea6"/>
<circle cx="493.89" cy="265.94" r="1.81" fill="#482ea6"/>
<circle cx="494.71" cy="275.15" r="1.42" fill="#482ea6"/>
<circle cx="486.26" cy="259.11" r="1.36" fill="#482ea6"/>
<circle cx="510.1" cy="264.45" r="1.81" fill="#482ea6"/>
<circle cx="505.44" cy="244.92" r="1.65" fill="#482ea6"/>
<circle cx="521.45" cy="256.8" r="1.32" fill="#482ea6"/>
<circle cx="522.75" cy="253.18" r="2.17" fill="#482ea6"/>
<circle cx="486.52" cy="244.53" r="1.85" fill="#482ea6"/>
<circle cx="520.91" cy="251.11" r="2.39" fill="#482ea6"/>
<circle cx="491.06" cy="239.8" r="1.19" fill="#482ea6"/>
<circle cx="506.74" cy="259.11" r="1.32" fill="#482ea6"/>
<circle cx="492.8" cy="256.48" r="1.59" fill="#482ea6"/>
<circle cx="517.75" cy="256.25" r="1.74" fill="#482ea6"/>
<circle cx="497.19" cy="275.2" r="1.94" fill="#482ea6"/>
<circle cx="507.72" cy="284.02" r="2.31" fill="#482ea6"/>
<circle cx="511.52" cy="244.85" r="1.55" fill="#482ea6"/>
<circle cx="511" cy="257.29" r="2.15" fill="#482ea6"/>
<circle cx="518.6" cy="252.61" r="1.68" fill="#482ea6"/>
<circle cx="516.19" cy="261.97" r="2.13" fill="#482ea6"/>
<circle cx="493.86" cy="236.18" r="1.36" fill="#482ea6"/>
<circle cx="506.42" cy="272.87" r="2.16" fill="#482ea6"/>
<circle cx="504.36" cy="234.67" r="1.2" fill="#482ea6"/>
<circle cx="486.2" cy="260.86" r="2.16" fill="#482ea6"/>
<circle cx="498.48" cy="277.27" r="2.27" fill="#482ea6"/>
<circle cx="515.07" cy="266.28" r="1.58" fill="#482ea6"/>
<circle cx="490.22" cy="267.13" r="2.08" fill="#482ea6"/>
<circle cx="485.53" cy="256.03" r="1.93" fill="#482ea6"/>
<circle cx="508.35" cy="271.98" r="1.5" fill="#482ea6"/>
<circle cx="511.11" cy="267.51" r="1.73" fill="#482ea6"/>
<circle cx="488.8" cy="271.12" r="1.13" fill="#482ea6"/>
<circle cx="510.3" cy="259.04" r="2.28" fill="#482ea6"/>
<circle cx="497.92" cy="268.81" r="1.12" fill="#5638b0"/>
<circle cx="495.31" cy="266.34" r="1.09" fill="#5638b0"/>
<circle cx="491.06" cy="271.72" r="1" fill="#5638b0"/>
<circle cx="515.1" cy="256.96" r="0.82" fill="#5638b0"/>
<circle cx="509.71" cy="275.88" r="0.86" fill="#5638b0"/>
<circle cx="487.18" cy="269.24" r="1.01" fill="#5638b0"/>
<circle cx="505.67" cy="234.95" r="1.27" fill="#5638b0"/>
<circle cx="503.88" cy="272.69" r="1.08" fill="#5638b0"/>
<circle cx="503.16" cy="242.3" r="0.79" fill="#5638b0"/>
<circle cx="514.36" cy="242.6" r="0.76" fill="#5638b0"/>
<circle cx="502.81" cy="249.19" r="0.86" fill="#5638b0"/>
<circle cx="508.84" cy="251.64" r="1.03" fill="#5638b0"/>
<circle cx="498.79" cy="259.47" r="1.38" fill="#5638b0"/>
<circle cx="489.61" cy="271.79" r="0.89" fill="#5638b0"/>
<circle cx="482.17" cy="261.89" r="1.14" fill="#5638b0"/>
<circle cx="519.32" cy="259.95" r="0.96" fill="#5638b0"/>
<circle cx="503.27" cy="262.89" r="1.25" fill="#5638b0"/>
<circle cx="521.8" cy="246.32" r="0.82" fill="#5638b0"/>
<circle cx="516.94" cy="252.56" r="1.28" fill="#5638b0"/>
<circle cx="482.94" cy="248.14" r="1.36" fill="#5638b0"/>
<circle cx="515.21" cy="273.33" r="1.19" fill="#5638b0"/>
<circle cx="499.58" cy="266.12" r="0.82" fill="#5638b0"/>
<circle cx="510.37" cy="253.94" r="1.14" fill="#5638b0"/>
<circle cx="505.86" cy="265.56" r="0.86" fill="#5638b0"/>
<circle cx="521.89" cy="257.02" r="0.92" fill="#5638b0"/>
<circle cx="516.26" cy="246.06" r="1.38" fill="#5638b0"/>
<circle cx="505.52" cy="275.43" r="0.7" fill="#5638b0"/>
<circle cx="511.17" cy="244.1" r="1.36" fill="#5638b0"/>
<circle cx="482.61" cy="262.2" r="1.02" fill="#5638b0"/>
<circle cx="498.75" cy="238.71" r="1.36" fill="#5638b0"/>
<circle cx="517.37" cy="249.67" r="0.91" fill="#5638b0"/>
<circle cx="518.53" cy="271.17" r="0.93" fill="#5638b0"/>
<circle cx="492.46" cy="261.24" r="1.08" fill="#5638b0"/>
<circle cx="503.83" cy="253.3" r="0.87" fill="#5638b0"/>
<circle cx="517.08" cy="252.05" r="1.36" fill="#5638b0"/>
<circle cx="492.65" cy="264.69" r="0.87" fill="#5638b0"/>
<circle cx="499.64" cy="244.51" r="1.1" fill="#5638b0"/>
<circle cx="504.98" cy="236.98" r="1.36" fill="#5638b0"/>
<circle cx="523.08" cy="248.67" r="1.02" fill="#5638b0"/>
<circle cx="490" cy="271.53" r="1.22" fill="#5638b0"/>
<circle cx="492.88" cy="264.43" r="0.36" fill="#7a64c4"/>
<circle cx="501.53" cy="244.05" r="0.55" fill="#7a64c4"/>
<circle cx="499.95" cy="235.97" r="0.73" fill="#7a64c4"/>
<circle cx="497.51" cy="246.71" r="0.72" fill="#7a64c4"/>
<circle cx="516.31" cy="260.54" r="0.72" fill="#7a64c4"/>
<circle cx="512.57" cy="241.79" r="0.7" fill="#7a64c4"/>
<circle cx="504.93" cy="259.71" r="0.47" fill="#7a64c4"/>
<circle cx="506.97" cy="253.94" r="0.48" fill="#7a64c4"/>
<circle cx="493.03" cy="255.29" r="0.7" fill="#7a64c4"/>
<circle cx="508.04" cy="259.8" r="0.75" fill="#7a64c4"/>
<circle cx="513.35" cy="256.59" r="0.51" fill="#7a64c4"/>
<circle cx="512.31" cy="247.09" r="0.58" fill="#7a64c4"/>
<circle cx="508.81" cy="239.51" r="0.68" fill="#7a64c4"/>
<circle cx="519.1" cy="257.46" r="0.36" fill="#7a64c4"/>
<circle cx="505.11" cy="253" r="0.39" fill="#7a64c4"/>
<circle cx="487.36" cy="263.27" r="0.36" fill="#7a64c4"/>
<circle cx="498.5" cy="250.37" r="0.48" fill="#7a64c4"/>
<circle cx="521.11" cy="260.69" r="0.68" fill="#7a64c4"/>
<circle cx="504.55" cy="243.41" r="0.45" fill="#7a64c4"/>
<circle cx="522.33" cy="251.15" r="0.74" fill="#7a64c4"/>
<circle cx="485.24" cy="266.31" r="0.62" fill="#7a64c4"/>
<circle cx="506.51" cy="240.45" r="0.66" fill="#7a64c4"/>
<circle cx="491.51" cy="255.9" r="0.54" fill="#7a64c4"/>
<circle cx="520.46" cy="260.4" r="0.48" fill="#7a64c4"/>
<circle cx="511.27" cy="273.56" r="0.56" fill="#7a64c4"/>
<circle cx="494.46" cy="275.13" r="0.73" fill="#7a64c4"/>
<circle cx="488.5" cy="263.18" r="0.35" fill="#7a64c4"/>
<circle cx="489.42" cy="272.94" r="0.55" fill="#7a64c4"/>
<circle cx="506.73" cy="255.65" r="0.36" fill="#7a64c4"/>
<circle cx="508.59" cy="258.08" r="0.65" fill="#7a64c4"/>
<circle cx="522.14" cy="254.37" r="0.59" fill="#7a64c4"/>
<circle cx="493.02" cy="265.03" r="0.4" fill="#7a64c4"/>
<circle cx="496.88" cy="260.42" r="0.67" fill="#7a64c4"/>
<circle cx="489.87" cy="252.58" r="0.69" fill="#7a64c4"/>
<circle cx="496.64" cy="275.34" r="0.64" fill="#7a64c4"/>
<circle cx="491.22" cy="243.59" r="0.6" fill="#7a64c4"/>
<circle cx="520.98" cy="243.2" r="0.57" fill="#7a64c4"/>
<circle cx="513.56" cy="253.13" r="0.72" fill="#7a64c4"/>
<circle cx="516.05" cy="244.05" r="0.39" fill="#7a64c4"/>
<circle cx="513.31" cy="247.02" r="0.48" fill="#7a64c4"/>
</g></g>
<circle cx="503" cy="309.6" r="22" fill="url(#gP)"/>
<circle cx="503" cy="309.6" r="20.4" fill="none" stroke="#d8d4e6" stroke-width="1.6" opacity="0.5"/>
<circle cx="503" cy="309.6" r="19" fill="none" stroke="#c9c4d8" stroke-width="0.5"/>
<line x1="483" y1="308.1" x2="523" y2="308.1" stroke="#f6f6f8" stroke-width="1"/>
<g filter="url(#b0)">
<circle cx="512.69" cy="309.5" r="1.2" fill="#2e2178"/>
<circle cx="519.05" cy="320.04" r="0.73" fill="#2e2178"/>
<circle cx="497.95" cy="291.57" r="1.35" fill="#2e2178"/>
<circle cx="514.83" cy="320.1" r="1.71" fill="#2e2178"/>
<circle cx="502" cy="294.97" r="0.8" fill="#2e2178"/>
<circle cx="509.14" cy="307.73" r="1.34" fill="#2e2178"/>
<circle cx="507.83" cy="302.32" r="0.82" fill="#2e2178"/>
<circle cx="497.48" cy="324.83" r="0.85" fill="#2e2178"/>
<circle cx="507.58" cy="306.04" r="0.71" fill="#2e2178"/>
<circle cx="494.36" cy="309.9" r="0.72" fill="#2e2178"/>
<circle cx="485.14" cy="311.91" r="1.74" fill="#2e2178"/>
<circle cx="513.61" cy="321.09" r="1.79" fill="#2e2178"/>
<circle cx="504.51" cy="293.62" r="0.76" fill="#2e2178"/>
<circle cx="495.36" cy="301.36" r="1.16" fill="#2e2178"/>
<circle cx="494.82" cy="298.53" r="1.39" fill="#2e2178"/>
<circle cx="490.62" cy="318.18" r="1.46" fill="#2e2178"/>
<circle cx="502.97" cy="319.08" r="1.06" fill="#2e2178"/>
<circle cx="499.35" cy="313.42" r="0.92" fill="#2e2178"/>
<circle cx="497.35" cy="323.21" r="1.34" fill="#2e2178"/>
<circle cx="509.07" cy="294.64" r="1.07" fill="#2e2178"/>
<circle cx="491.33" cy="317.05" r="0.75" fill="#2e2178"/>
<circle cx="499.1" cy="320.87" r="0.82" fill="#2e2178"/>
<circle cx="514.2" cy="310.81" r="1.02" fill="#2e2178"/>
<circle cx="497.93" cy="296.29" r="1.14" fill="#2e2178"/>
<circle cx="512.42" cy="303.21" r="0.86" fill="#2e2178"/>
<circle cx="503.8" cy="297.21" r="1.27" fill="#2e2178"/>
<circle cx="500.55" cy="311.45" r="0.94" fill="#2e2178"/>
<circle cx="494.31" cy="312.68" r="0.7" fill="#2e2178"/>
<circle cx="505.27" cy="305.11" r="1.66" fill="#2e2178"/>
<circle cx="485.74" cy="303.17" r="0.7" fill="#2e2178"/>
<circle cx="517.88" cy="299.8" r="0.38" fill="#5a4a9a"/>
<circle cx="506.07" cy="316.45" r="0.5" fill="#5a4a9a"/>
<circle cx="518.73" cy="318.08" r="0.5" fill="#5a4a9a"/>
<circle cx="500.13" cy="299.93" r="0.55" fill="#5a4a9a"/>
<circle cx="487.58" cy="314.23" r="0.47" fill="#5a4a9a"/>
<circle cx="521.36" cy="308.42" r="0.6" fill="#5a4a9a"/>
<circle cx="498.26" cy="316.94" r="0.4" fill="#5a4a9a"/>
<circle cx="516.32" cy="324.08" r="0.43" fill="#5a4a9a"/>
<circle cx="509.62" cy="302.6" r="0.54" fill="#5a4a9a"/>
<circle cx="503.06" cy="320.68" r="0.57" fill="#5a4a9a"/>
<circle cx="487.89" cy="297.35" r="0.42" fill="#5a4a9a"/>
<circle cx="502.36" cy="314.57" r="0.41" fill="#5a4a9a"/>
<circle cx="517.91" cy="307.78" r="0.49" fill="#5a4a9a"/>
<circle cx="493.58" cy="324.27" r="0.56" fill="#5a4a9a"/>
</g>
<circle cx="548" cy="255.8" r="22" fill="url(#gA)"/>
<g clip-path="url(#cp15)">
<clipPath id="cp15"><circle cx="548" cy="255.8" r="21.4"/></clipPath>
<circle cx="550.09" cy="255.34" r="6.68" fill="#c8bfe2" opacity="0.3" filter="url(#b2)"/>
<circle cx="558.74" cy="272.27" r="3.08" fill="#c8bfe2" opacity="0.3" filter="url(#b2)"/>
<circle cx="559.88" cy="244.57" r="7.29" fill="#c8bfe2" opacity="0.3" filter="url(#b2)"/>
<circle cx="557.69" cy="255.79" r="4.69" fill="#c8bfe2" opacity="0.3" filter="url(#b2)"/>
<circle cx="545.28" cy="245.67" r="4.32" fill="#c8bfe2" opacity="0.3" filter="url(#b2)"/>
<circle cx="550.46" cy="273.97" r="7.37" fill="#c8bfe2" opacity="0.3" filter="url(#b2)"/>
<circle cx="550.76" cy="246.86" r="7.62" fill="#c8bfe2" opacity="0.3" filter="url(#b2)"/>
<circle cx="538.5" cy="255.12" r="5.28" fill="#c8bfe2" opacity="0.3" filter="url(#b2)"/>
<g filter="url(#b0)">
<circle cx="556.82" cy="241.99" r="1.75" fill="#482ea6"/>
<circle cx="568.18" cy="260.09" r="1.5" fill="#482ea6"/>
<circle cx="540.13" cy="273.01" r="1.2" fill="#482ea6"/>
<circle cx="553.49" cy="237.39" r="1.59" fill="#482ea6"/>
<circle cx="563.04" cy="248.49" r="2.26" fill="#482ea6"/>
<circle cx="556.47" cy="268.85" r="2.37" fill="#482ea6"/>
<circle cx="541.36" cy="258.98" r="2.35" fill="#482ea6"/>
<circle cx="556.88" cy="242.33" r="1.43" fill="#482ea6"/>
<circle cx="547.3" cy="260.53" r="2.19" fill="#482ea6"/>
<circle cx="565.79" cy="262.33" r="1.81" fill="#482ea6"/>
<circle cx="568.37" cy="251.4" r="1.12" fill="#482ea6"/>
<circle cx="540.07" cy="266.99" r="1.29" fill="#482ea6"/>
<circle cx="566.28" cy="264.14" r="1.99" fill="#482ea6"/>
<circle cx="540.84" cy="271.34" r="1.54" fill="#482ea6"/>
<circle cx="535.17" cy="265.83" r="2.33" fill="#482ea6"/>
<circle cx="545.72" cy="242.09" r="2.21" fill="#482ea6"/>
<circle cx="542.07" cy="269.46" r="1.9" fill="#482ea6"/>
<circle cx="563.31" cy="270.45" r="1.23" fill="#482ea6"/>
<circle cx="543.45" cy="238.82" r="1.81" fill="#482ea6"/>
<circle cx="541.86" cy="268.4" r="1.94" fill="#482ea6"/>
<circle cx="566.71" cy="255.28" r="2.18" fill="#482ea6"/>
<circle cx="561.05" cy="248.59" r="1.84" fill="#482ea6"/>
<circle cx="560.57" cy="258.08" r="1.56" fill="#482ea6"/>
<circle cx="567.41" cy="253" r="2.12" fill="#482ea6"/>
<circle cx="540.92" cy="242.86" r="1.19" fill="#482ea6"/>
<circle cx="539.7" cy="258.84" r="1.52" fill="#482ea6"/>
<circle cx="562.86" cy="241.58" r="1.32" fill="#482ea6"/>
<circle cx="553.54" cy="263.1" r="2.3" fill="#482ea6"/>
<circle cx="557.01" cy="272.45" r="2.06" fill="#482ea6"/>
<circle cx="562.64" cy="253.72" r="1.95" fill="#482ea6"/>
<circle cx="573.63" cy="258.19" r="1.7" fill="#482ea6"/>
<circle cx="566.46" cy="252.69" r="1.44" fill="#482ea6"/>
<circle cx="530.84" cy="262.34" r="1.26" fill="#482ea6"/>
<circle cx="540.13" cy="274.62" r="1.71" fill="#482ea6"/>
<circle cx="561.66" cy="249.86" r="1.76" fill="#482ea6"/>
<circle cx="540.85" cy="235.79" r="1.68" fill="#482ea6"/>
<circle cx="560.31" cy="247.95" r="1.5" fill="#482ea6"/>
<circle cx="551.45" cy="273.57" r="1.68" fill="#482ea6"/>
<circle cx="562.68" cy="251.6" r="1.26" fill="#482ea6"/>
<circle cx="534.91" cy="270.54" r="1.9" fill="#482ea6"/>
<circle cx="555.19" cy="238.84" r="1.14" fill="#5638b0"/>
<circle cx="531.79" cy="267.17" r="1.24" fill="#5638b0"/>
<circle cx="542.1" cy="268.03" r="0.96" fill="#5638b0"/>
<circle cx="538.94" cy="240.55" r="1.17" fill="#5638b0"/>
<circle cx="550.82" cy="275.91" r="1.19" fill="#5638b0"/>
<circle cx="547.55" cy="266.54" r="1.05" fill="#5638b0"/>
<circle cx="552.23" cy="265.58" r="1.36" fill="#5638b0"/>
<circle cx="556.42" cy="269.23" r="1.36" fill="#5638b0"/>
<circle cx="533.08" cy="249.93" r="1.25" fill="#5638b0"/>
<circle cx="543.92" cy="238.93" r="0.73" fill="#5638b0"/>
<circle cx="549.13" cy="245.49" r="0.98" fill="#5638b0"/>
<circle cx="531.23" cy="253.69" r="0.92" fill="#5638b0"/>
<circle cx="536.55" cy="269.46" r="0.97" fill="#5638b0"/>
<circle cx="568.3" cy="256.82" r="1.29" fill="#5638b0"/>
<circle cx="533.84" cy="239.53" r="1.01" fill="#5638b0"/>
<circle cx="561.38" cy="268.78" r="1.12" fill="#5638b0"/>
<circle cx="553.99" cy="238.41" r="1.27" fill="#5638b0"/>
<circle cx="554.9" cy="260.23" r="1.37" fill="#5638b0"/>
<circle cx="562.31" cy="242.91" r="0.8" fill="#5638b0"/>
<circle cx="531.16" cy="245.78" r="1.18" fill="#5638b0"/>
<circle cx="541.44" cy="241.58" r="0.87" fill="#5638b0"/>
<circle cx="543.97" cy="234.38" r="1.35" fill="#5638b0"/>
<circle cx="558.28" cy="241.25" r="0.78" fill="#5638b0"/>
<circle cx="550.84" cy="246.81" r="1.3" fill="#5638b0"/>
<circle cx="543.65" cy="276.29" r="1.27" fill="#5638b0"/>
<circle cx="564.83" cy="269.46" r="0.87" fill="#5638b0"/>
<circle cx="530.09" cy="262.38" r="1.14" fill="#5638b0"/>
<circle cx="538.4" cy="246.24" r="1.17" fill="#5638b0"/>
<circle cx="546.8" cy="237.02" r="0.82" fill="#5638b0"/>
<circle cx="563.92" cy="246.33" r="0.83" fill="#5638b0"/>
<circle cx="559.3" cy="268.15" r="0.79" fill="#5638b0"/>
<circle cx="528.08" cy="258.08" r="1.16" fill="#5638b0"/>
<circle cx="558.85" cy="236.68" r="0.96" fill="#5638b0"/>
<circle cx="566.37" cy="266.37" r="0.96" fill="#5638b0"/>
<circle cx="530.59" cy="248.83" r="1.4" fill="#5638b0"/>
<circle cx="538.36" cy="240.81" r="1.18" fill="#5638b0"/>
<circle cx="532.44" cy="262.01" r="1.17" fill="#5638b0"/>
<circle cx="557.44" cy="240.45" r="1.33" fill="#5638b0"/>
<circle cx="549.37" cy="277.76" r="0.85" fill="#5638b0"/>
<circle cx="566.2" cy="265.27" r="1.18" fill="#5638b0"/>
<circle cx="529.53" cy="265.55" r="1.15" fill="#5638b0"/>
<circle cx="548.14" cy="247.5" r="1.39" fill="#5638b0"/>
<circle cx="535.66" cy="257.37" r="1.2" fill="#5638b0"/>
<circle cx="532.25" cy="259.68" r="1.2" fill="#5638b0"/>
<circle cx="532.02" cy="269.4" r="0.71" fill="#5638b0"/>
<circle cx="535.93" cy="256.3" r="0.96" fill="#5638b0"/>
<circle cx="556.85" cy="241.07" r="0.45" fill="#7a64c4"/>
<circle cx="555.77" cy="259.3" r="0.5" fill="#7a64c4"/>
<circle cx="533.01" cy="251.77" r="0.52" fill="#7a64c4"/>
<circle cx="535.95" cy="253.65" r="0.73" fill="#7a64c4"/>
<circle cx="550.53" cy="268.92" r="0.61" fill="#7a64c4"/>
<circle cx="555.37" cy="243.92" r="0.6" fill="#7a64c4"/>
<circle cx="547.94" cy="258.11" r="0.74" fill="#7a64c4"/>
<circle cx="565.5" cy="263.71" r="0.36" fill="#7a64c4"/>
<circle cx="543.21" cy="270.85" r="0.71" fill="#7a64c4"/>
<circle cx="551.99" cy="244.45" r="0.35" fill="#7a64c4"/>
<circle cx="548.39" cy="236.8" r="0.72" fill="#7a64c4"/>
<circle cx="560.05" cy="269.16" r="0.6" fill="#7a64c4"/>
<circle cx="562.54" cy="241.7" r="0.66" fill="#7a64c4"/>
<circle cx="551.69" cy="250.71" r="0.74" fill="#7a64c4"/>
<circle cx="531.44" cy="243.17" r="0.41" fill="#7a64c4"/>
<circle cx="527.39" cy="253.67" r="0.74" fill="#7a64c4"/>
<circle cx="532.11" cy="242.38" r="0.36" fill="#7a64c4"/>
<circle cx="556.81" cy="262.59" r="0.7" fill="#7a64c4"/>
<circle cx="544.71" cy="241.82" r="0.72" fill="#7a64c4"/>
<circle cx="539.65" cy="255" r="0.73" fill="#7a64c4"/>
<circle cx="546.45" cy="233.91" r="0.66" fill="#7a64c4"/>
<circle cx="527.2" cy="255.25" r="0.4" fill="#7a64c4"/>
<circle cx="559.29" cy="256.34" r="0.73" fill="#7a64c4"/>
<circle cx="564.29" cy="265.86" r="0.57" fill="#7a64c4"/>
<circle cx="554.79" cy="263.21" r="0.64" fill="#7a64c4"/>
<circle cx="532.21" cy="269.08" r="0.37" fill="#7a64c4"/>
<circle cx="529.92" cy="246.57" r="0.45" fill="#7a64c4"/>
<circle cx="545.14" cy="272.3" r="0.42" fill="#7a64c4"/>
<circle cx="535.26" cy="238.94" r="0.48" fill="#7a64c4"/>
<circle cx="557.93" cy="273.88" r="0.37" fill="#7a64c4"/>
<circle cx="556.53" cy="244.37" r="0.67" fill="#7a64c4"/>
<circle cx="532.69" cy="270.96" r="0.61" fill="#7a64c4"/>
<circle cx="543.1" cy="252.41" r="0.58" fill="#7a64c4"/>
<circle cx="549.57" cy="274.28" r="0.48" fill="#7a64c4"/>
<circle cx="549.08" cy="263.98" r="0.45" fill="#7a64c4"/>
<circle cx="556.23" cy="264.02" r="0.56" fill="#7a64c4"/>
<circle cx="560.09" cy="240.65" r="0.49" fill="#7a64c4"/>
<circle cx="559.61" cy="249.87" r="0.52" fill="#7a64c4"/>
<circle cx="531.67" cy="251" r="0.55" fill="#7a64c4"/>
<circle cx="542.92" cy="247.45" r="0.43" fill="#7a64c4"/>
<circle cx="540.5" cy="268.31" r="0.45" fill="#7a64c4"/>
<circle cx="542.58" cy="253.32" r="0.52" fill="#7a64c4"/>
<circle cx="531.48" cy="260.23" r="0.41" fill="#7a64c4"/>
<circle cx="539.64" cy="243.4" r="0.72" fill="#7a64c4"/>
<circle cx="557.01" cy="266.42" r="0.66" fill="#7a64c4"/>
<circle cx="566.19" cy="247.97" r="0.71" fill="#7a64c4"/>
<circle cx="538.33" cy="259.77" r="0.45" fill="#7a64c4"/>
<circle cx="536.2" cy="242.32" r="0.52" fill="#7a64c4"/>
<circle cx="555.45" cy="274.98" r="0.48" fill="#7a64c4"/>
<circle cx="549.25" cy="275.84" r="0.66" fill="#7a64c4"/>
</g></g>
<circle cx="548" cy="309.6" r="22" fill="url(#gP)"/>
<circle cx="548" cy="309.6" r="20.4" fill="none" stroke="#d8d4e6" stroke-width="1.6" opacity="0.5"/>
<circle cx="548" cy="309.6" r="19" fill="none" stroke="#c9c4d8" stroke-width="0.5"/>
<line x1="528" y1="308.1" x2="568" y2="308.1" stroke="#f6f6f8" stroke-width="1"/>
<g filter="url(#b0)">
<circle cx="543.07" cy="323.05" r="1.08" fill="#2e2178"/>
<circle cx="560.94" cy="322.44" r="1.46" fill="#2e2178"/>
<circle cx="528.45" cy="308.08" r="1.13" fill="#2e2178"/>
<circle cx="552.24" cy="301.26" r="0.84" fill="#2e2178"/>
<circle cx="541.04" cy="310.96" r="1.74" fill="#2e2178"/>
<circle cx="543.47" cy="304.4" r="1.07" fill="#2e2178"/>
<circle cx="539.78" cy="314.5" r="0.73" fill="#2e2178"/>
<circle cx="542.34" cy="311.02" r="1.05" fill="#2e2178"/>
<circle cx="540.19" cy="308.87" r="1.54" fill="#2e2178"/>
<circle cx="556.83" cy="311.9" r="1.43" fill="#2e2178"/>
<circle cx="550.61" cy="323.69" r="1.04" fill="#2e2178"/>
<circle cx="533.79" cy="315.69" r="0.98" fill="#2e2178"/>
<circle cx="542.75" cy="310.17" r="1.43" fill="#2e2178"/>
<circle cx="547.01" cy="314.3" r="0.88" fill="#2e2178"/>
<circle cx="554.87" cy="293.57" r="0.93" fill="#2e2178"/>
<circle cx="537.79" cy="311.02" r="1.12" fill="#2e2178"/>
<circle cx="544.71" cy="314.1" r="0.72" fill="#2e2178"/>
<circle cx="563.21" cy="319.6" r="1.56" fill="#2e2178"/>
<circle cx="548.36" cy="299.3" r="0.72" fill="#2e2178"/>
<circle cx="560.81" cy="305.49" r="0.73" fill="#2e2178"/>
<circle cx="532.41" cy="302.09" r="1.02" fill="#2e2178"/>
<circle cx="536.42" cy="313.21" r="0.97" fill="#2e2178"/>
<circle cx="530.48" cy="314.39" r="0.92" fill="#2e2178"/>
<circle cx="548.5" cy="295.4" r="1.41" fill="#2e2178"/>
<circle cx="543.7" cy="293.61" r="1.11" fill="#2e2178"/>
<circle cx="548.36" cy="312.36" r="1.31" fill="#2e2178"/>
<circle cx="547.59" cy="316.92" r="1.42" fill="#2e2178"/>
<circle cx="544.67" cy="307.46" r="1" fill="#2e2178"/>
<circle cx="564" cy="303.24" r="0.71" fill="#2e2178"/>
<circle cx="555.51" cy="320.63" r="0.78" fill="#2e2178"/>
<circle cx="562.12" cy="318.99" r="1.23" fill="#2e2178"/>
<circle cx="551.38" cy="325.59" r="1.52" fill="#2e2178"/>
<circle cx="555.1" cy="303.9" r="0.71" fill="#2e2178"/>
<circle cx="558.71" cy="303.02" r="0.73" fill="#2e2178"/>
<circle cx="551.11" cy="299.8" r="0.57" fill="#5a4a9a"/>
<circle cx="544.07" cy="299.52" r="0.49" fill="#5a4a9a"/>
<circle cx="543.6" cy="327.01" r="0.44" fill="#5a4a9a"/>
<circle cx="545.24" cy="327.91" r="0.43" fill="#5a4a9a"/>
<circle cx="534.76" cy="315.17" r="0.35" fill="#5a4a9a"/>
<circle cx="544.05" cy="326.39" r="0.64" fill="#5a4a9a"/>
<circle cx="540.47" cy="321.18" r="0.37" fill="#5a4a9a"/>
<circle cx="536.04" cy="310.5" r="0.5" fill="#5a4a9a"/>
<circle cx="544.63" cy="320.29" r="0.62" fill="#5a4a9a"/>
<circle cx="550.04" cy="297.77" r="0.37" fill="#5a4a9a"/>
<circle cx="553.88" cy="311.6" r="0.39" fill="#5a4a9a"/>
<circle cx="535.47" cy="302.44" r="0.39" fill="#5a4a9a"/>
<circle cx="559.81" cy="298.26" r="0.56" fill="#5a4a9a"/>
<circle cx="556.88" cy="302.76" r="0.62" fill="#5a4a9a"/>
<circle cx="566.85" cy="306.75" r="0.36" fill="#5a4a9a"/>
<circle cx="559.74" cy="293.6" r="0.38" fill="#5a4a9a"/>
</g>
<text x="572.4" y="259.6" font-size="9.1" font-weight="bold" text-anchor="start" fill="#000" >A549</text>
<text x="574" y="313.6" font-size="9.1" font-weight="bold" text-anchor="start" fill="#000" >PC9</text>
<line x1="329.4" y1="348" x2="329.4" y2="452.7" stroke="#000" stroke-width="1.5"/>
<line x1="327.6" y1="452" x2="501.6" y2="452" stroke="#000" stroke-width="1.5"/>
<line x1="326.8" y1="452" x2="329.4" y2="452" stroke="#000" stroke-width="1.2"/>
<text x="325.3" y="454.8" font-size="7.8" font-weight="bold" text-anchor="end" fill="#000" >0</text>
<line x1="326.8" y1="417.46" x2="329.4" y2="417.46" stroke="#000" stroke-width="1.2"/>
<text x="325.3" y="420.26" font-size="7.8" font-weight="bold" text-anchor="end" fill="#000" >20</text>
<line x1="326.8" y1="382.92" x2="329.4" y2="382.92" stroke="#000" stroke-width="1.2"/>
<text x="325.3" y="385.72" font-size="7.8" font-weight="bold" text-anchor="end" fill="#000" >40</text>
<line x1="326.8" y1="348.38" x2="329.4" y2="348.38" stroke="#000" stroke-width="1.2"/>
<text x="325.3" y="351.18" font-size="7.8" font-weight="bold" text-anchor="end" fill="#000" >60</text>
<text x="311" y="400" font-size="9.3" font-weight="bold" text-anchor="middle" fill="#000" transform="rotate(-90 311 400)">Colony counts</text>
<line x1="339.35" y1="416.4" x2="339.35" y2="413.4" stroke="#000" stroke-width="1.3"/>
<line x1="337.75" y1="413.4" x2="340.95" y2="413.4" stroke="#000" stroke-width="1.2"/>
<rect x="336.1" y="416.9" width="6.5" height="35.1" fill="#000" stroke="#000" stroke-width="1.0" />
<line x1="348.6" y1="428.4" x2="348.6" y2="426.8" stroke="#000" stroke-width="1.3"/>
<line x1="347" y1="426.8" x2="350.2" y2="426.8" stroke="#000" stroke-width="1.2"/>
<rect x="345.5" y="428.9" width="6.2" height="23.1" fill="#fff" stroke="#000" stroke-width="1.0" />
<line x1="343.7" y1="452" x2="343.7" y2="454.8" stroke="#000" stroke-width="1.2"/>
<text x="345.2" y="462" font-size="8.7" font-weight="bold" text-anchor="end" fill="#000" transform="rotate(-45 345.2 462)">0</text>
<line x1="367.95" y1="411.2" x2="367.95" y2="408.4" stroke="#000" stroke-width="1.3"/>
<line x1="366.35" y1="408.4" x2="369.55" y2="408.4" stroke="#000" stroke-width="1.2"/>
<rect x="364.7" y="411.7" width="6.5" height="40.3" fill="#000" stroke="#000" stroke-width="1.0" />
<line x1="377.2" y1="428" x2="377.2" y2="425.4" stroke="#000" stroke-width="1.3"/>
<line x1="375.6" y1="425.4" x2="378.8" y2="425.4" stroke="#000" stroke-width="1.2"/>
<rect x="374.1" y="428.5" width="6.2" height="23.5" fill="#fff" stroke="#000" stroke-width="1.0" />
<line x1="372.3" y1="452" x2="372.3" y2="454.8" stroke="#000" stroke-width="1.2"/>
<text x="373.8" y="462" font-size="8.7" font-weight="bold" text-anchor="end" fill="#000" transform="rotate(-45 373.8 462)">0.025</text>
<line x1="396.55" y1="409" x2="396.55" y2="406.2" stroke="#000" stroke-width="1.3"/>
<line x1="394.95" y1="406.2" x2="398.15" y2="406.2" stroke="#000" stroke-width="1.2"/>
<rect x="393.3" y="409.5" width="6.5" height="42.5" fill="#000" stroke="#000" stroke-width="1.0" />
<line x1="405.8" y1="426.6" x2="405.8" y2="423.2" stroke="#000" stroke-width="1.3"/>
<line x1="404.2" y1="423.2" x2="407.4" y2="423.2" stroke="#000" stroke-width="1.2"/>
<rect x="402.7" y="427.1" width="6.2" height="24.9" fill="#fff" stroke="#000" stroke-width="1.0" />
<line x1="400.9" y1="452" x2="400.9" y2="454.8" stroke="#000" stroke-width="1.2"/>
<text x="402.4" y="462" font-size="8.7" font-weight="bold" text-anchor="end" fill="#000" transform="rotate(-45 402.4 462)">0.25</text>
<line x1="425.15" y1="385" x2="425.15" y2="377.4" stroke="#000" stroke-width="1.3"/>
<line x1="423.55" y1="377.4" x2="426.75" y2="377.4" stroke="#000" stroke-width="1.2"/>
<rect x="421.9" y="385.5" width="6.5" height="66.5" fill="#000" stroke="#000" stroke-width="1.0" />
<line x1="434.4" y1="422.6" x2="434.4" y2="420" stroke="#000" stroke-width="1.3"/>
<line x1="432.8" y1="420" x2="436" y2="420" stroke="#000" stroke-width="1.2"/>
<rect x="431.3" y="423.1" width="6.2" height="28.9" fill="#fff" stroke="#000" stroke-width="1.0" />
<line x1="429.5" y1="452" x2="429.5" y2="454.8" stroke="#000" stroke-width="1.2"/>
<text x="431" y="462" font-size="8.7" font-weight="bold" text-anchor="end" fill="#000" transform="rotate(-45 431 462)">2.5</text>
<line x1="453.75" y1="367" x2="453.75" y2="362" stroke="#000" stroke-width="1.3"/>
<line x1="452.15" y1="362" x2="455.35" y2="362" stroke="#000" stroke-width="1.2"/>
<rect x="450.5" y="367.5" width="6.5" height="84.5" fill="#000" stroke="#000" stroke-width="1.0" />
<line x1="463" y1="409.4" x2="463" y2="403.6" stroke="#000" stroke-width="1.3"/>
<line x1="461.4" y1="403.6" x2="464.6" y2="403.6" stroke="#000" stroke-width="1.2"/>
<rect x="459.9" y="409.9" width="6.2" height="42.1" fill="#fff" stroke="#000" stroke-width="1.0" />
<line x1="458.1" y1="452" x2="458.1" y2="454.8" stroke="#000" stroke-width="1.2"/>
<text x="459.6" y="462" font-size="8.7" font-weight="bold" text-anchor="end" fill="#000" transform="rotate(-45 459.6 462)">25</text>
<line x1="482.35" y1="375" x2="482.35" y2="369.4" stroke="#000" stroke-width="1.3"/>
<line x1="480.75" y1="369.4" x2="483.95" y2="369.4" stroke="#000" stroke-width="1.2"/>
<rect x="479.1" y="375.5" width="6.5" height="76.5" fill="#000" stroke="#000" stroke-width="1.0" />
<line x1="491.6" y1="410" x2="491.6" y2="405.6" stroke="#000" stroke-width="1.3"/>
<line x1="490" y1="405.6" x2="493.2" y2="405.6" stroke="#000" stroke-width="1.2"/>
<rect x="488.5" y="410.5" width="6.2" height="41.5" fill="#fff" stroke="#000" stroke-width="1.0" />
<line x1="486.7" y1="452" x2="486.7" y2="454.8" stroke="#000" stroke-width="1.2"/>
<text x="488.2" y="462" font-size="8.7" font-weight="bold" text-anchor="end" fill="#000" transform="rotate(-45 488.2 462)">250</text>
<text x="425.3" y="377.35" font-size="9" font-weight="normal" text-anchor="middle" fill="#2a2a2a" letter-spacing="0.3" stroke="none">*</text>
<text x="453.9" y="361.95" font-size="9" font-weight="normal" text-anchor="middle" fill="#2a2a2a" letter-spacing="0.3" stroke="none">**</text>
<text x="463.15" y="403.95" font-size="9" font-weight="normal" text-anchor="middle" fill="#2a2a2a" letter-spacing="0.3" stroke="none">*</text>
<text x="482.5" y="369.55" font-size="9" font-weight="normal" text-anchor="middle" fill="#2a2a2a" letter-spacing="0.3" stroke="none">**</text>
<text x="491.75" y="404.35" font-size="9" font-weight="normal" text-anchor="middle" fill="#2a2a2a" letter-spacing="0.3" stroke="none">*</text>
<line x1="332.6" y1="477.6" x2="494.4" y2="477.6" stroke="#333" stroke-width="1.4"/>
<text x="388" y="490.2" font-size="10" font-weight="bold" text-anchor="start" fill="#000" >C5a (ng/ml)</text>
<rect x="336.5" y="352.5" width="11" height="5.4" fill="#000" stroke="#000" stroke-width="1" />
<rect x="336.5" y="362.5" width="11" height="5.4" fill="#fff" stroke="#000" stroke-width="1" />
<text x="353" y="358.4" font-size="9" font-weight="bold" text-anchor="start" fill="#000" >A549</text>
<text x="353" y="368.4" font-size="9" font-weight="bold" text-anchor="start" fill="#000" >PC9</text>
<text x="0.5" y="360" font-size="15.5" font-weight="bold" text-anchor="start" fill="#000" >e</text>
<line x1="33" y1="371.2" x2="33" y2="476.2" stroke="#000" stroke-width="1.6"/>
<line x1="28.8" y1="475.5" x2="247" y2="475.5" stroke="#000" stroke-width="1.6"/>
<line x1="28.6" y1="475.5" x2="33" y2="475.5" stroke="#000" stroke-width="1.3"/>
<text x="27.8" y="478.6" font-size="9" font-weight="bold" text-anchor="end" fill="#000" >0</text>
<line x1="28.6" y1="454.6" x2="33" y2="454.6" stroke="#000" stroke-width="1.3"/>
<text x="27.8" y="457.7" font-size="9" font-weight="bold" text-anchor="end" fill="#000" >1</text>
<line x1="28.6" y1="433.7" x2="33" y2="433.7" stroke="#000" stroke-width="1.3"/>
<text x="27.8" y="436.8" font-size="9" font-weight="bold" text-anchor="end" fill="#000" >2</text>
<line x1="28.6" y1="412.8" x2="33" y2="412.8" stroke="#000" stroke-width="1.3"/>
<text x="27.8" y="415.9" font-size="9" font-weight="bold" text-anchor="end" fill="#000" >3</text>
<line x1="28.6" y1="391.9" x2="33" y2="391.9" stroke="#000" stroke-width="1.3"/>
<text x="27.8" y="395" font-size="9" font-weight="bold" text-anchor="end" fill="#000" >4</text>
<line x1="28.6" y1="371" x2="33" y2="371" stroke="#000" stroke-width="1.3"/>
<text x="27.8" y="374.1" font-size="9" font-weight="bold" text-anchor="end" fill="#000" >5</text>
<text x="14.6" y="423" font-size="9.4" font-weight="bold" text-anchor="middle" fill="#000" textLength="95.5" lengthAdjust="spacingAndGlyphs" transform="rotate(-90 14.6 423)">Relative mRNA level</text>
<line x1="43.55" y1="454" x2="43.55" y2="451.4" stroke="#000" stroke-width="1.5"/>
<line x1="41.65" y1="451.4" x2="45.45" y2="451.4" stroke="#000" stroke-width="1.2"/>
<rect x="39.8" y="454.6" width="7.5" height="20.9" fill="#000" stroke="#000" stroke-width="1.2" />
<line x1="43.55" y1="475.5" x2="43.55" y2="478.5" stroke="#000" stroke-width="1.2"/>
<text x="43.55" y="489.2" font-size="8.3" font-weight="bold" text-anchor="middle" fill="#000" >0</text>
<line x1="53.55" y1="443" x2="53.55" y2="439.4" stroke="#000" stroke-width="1.5"/>
<line x1="51.65" y1="439.4" x2="55.45" y2="439.4" stroke="#000" stroke-width="1.2"/>
<rect x="49.8" y="443.6" width="7.5" height="31.9" fill="#000" stroke="#000" stroke-width="1.2" />
<line x1="53.55" y1="475.5" x2="53.55" y2="478.5" stroke="#000" stroke-width="1.2"/>
<text x="53.55" y="489.2" font-size="8.3" font-weight="bold" text-anchor="middle" fill="#000" >1</text>
<line x1="63.55" y1="421.6" x2="63.55" y2="419" stroke="#000" stroke-width="1.5"/>
<line x1="61.65" y1="419" x2="65.45" y2="419" stroke="#000" stroke-width="1.2"/>
<rect x="59.8" y="422.2" width="7.5" height="53.3" fill="#000" stroke="#000" stroke-width="1.2" />
<line x1="63.55" y1="475.5" x2="63.55" y2="478.5" stroke="#000" stroke-width="1.2"/>
<text x="63.55" y="489.2" font-size="8.3" font-weight="bold" text-anchor="middle" fill="#000" >2</text>
<line x1="73.55" y1="419.2" x2="73.55" y2="416" stroke="#000" stroke-width="1.5"/>
<line x1="71.65" y1="416" x2="75.45" y2="416" stroke="#000" stroke-width="1.2"/>
<rect x="69.8" y="419.8" width="7.5" height="55.7" fill="#000" stroke="#000" stroke-width="1.2" />
<line x1="73.55" y1="475.5" x2="73.55" y2="478.5" stroke="#000" stroke-width="1.2"/>
<text x="73.55" y="489.2" font-size="8.3" font-weight="bold" text-anchor="middle" fill="#000" >3</text>
<line x1="83.55" y1="445" x2="83.55" y2="441.4" stroke="#000" stroke-width="1.5"/>
<line x1="81.65" y1="441.4" x2="85.45" y2="441.4" stroke="#000" stroke-width="1.2"/>
<rect x="79.8" y="445.6" width="7.5" height="29.9" fill="#000" stroke="#000" stroke-width="1.2" />
<line x1="83.55" y1="475.5" x2="83.55" y2="478.5" stroke="#000" stroke-width="1.2"/>
<text x="83.55" y="489.2" font-size="8.3" font-weight="bold" text-anchor="middle" fill="#000" >6</text>
<line x1="93.55" y1="460.4" x2="93.55" y2="458.6" stroke="#000" stroke-width="1.5"/>
<line x1="91.65" y1="458.6" x2="95.45" y2="458.6" stroke="#000" stroke-width="1.2"/>
<rect x="89.8" y="461" width="7.5" height="14.5" fill="#000" stroke="#000" stroke-width="1.2" />
<line x1="93.55" y1="475.5" x2="93.55" y2="478.5" stroke="#000" stroke-width="1.2"/>
<text x="93.55" y="489.2" font-size="8.3" font-weight="bold" text-anchor="middle" fill="#000" >12</text>
<line x1="115.15" y1="454.4" x2="115.15" y2="450.4" stroke="#000" stroke-width="1.5"/>
<line x1="113.25" y1="450.4" x2="117.05" y2="450.4" stroke="#000" stroke-width="1.2"/>
<rect x="111.4" y="455" width="7.5" height="20.5" fill="#fff" stroke="#000" stroke-width="1.2" />
<line x1="115.15" y1="475.5" x2="115.15" y2="478.5" stroke="#000" stroke-width="1.2"/>
<text x="115.15" y="489.2" font-size="8.3" font-weight="bold" text-anchor="middle" fill="#000" >0</text>
<line x1="125.15" y1="447" x2="125.15" y2="442.4" stroke="#000" stroke-width="1.5"/>
<line x1="123.25" y1="442.4" x2="127.05" y2="442.4" stroke="#000" stroke-width="1.2"/>
<rect x="121.4" y="447.6" width="7.5" height="27.9" fill="#fff" stroke="#000" stroke-width="1.2" />
<line x1="125.15" y1="475.5" x2="125.15" y2="478.5" stroke="#000" stroke-width="1.2"/>
<text x="125.15" y="489.2" font-size="8.3" font-weight="bold" text-anchor="middle" fill="#000" >1</text>
<line x1="135.15" y1="431.4" x2="135.15" y2="426.4" stroke="#000" stroke-width="1.5"/>
<line x1="133.25" y1="426.4" x2="137.05" y2="426.4" stroke="#000" stroke-width="1.2"/>
<rect x="131.4" y="432" width="7.5" height="43.5" fill="#fff" stroke="#000" stroke-width="1.2" />
<line x1="135.15" y1="475.5" x2="135.15" y2="478.5" stroke="#000" stroke-width="1.2"/>
<text x="135.15" y="489.2" font-size="8.3" font-weight="bold" text-anchor="middle" fill="#000" >2</text>
<line x1="145.15" y1="424.4" x2="145.15" y2="421" stroke="#000" stroke-width="1.5"/>
<line x1="143.25" y1="421" x2="147.05" y2="421" stroke="#000" stroke-width="1.2"/>
<rect x="141.4" y="425" width="7.5" height="50.5" fill="#fff" stroke="#000" stroke-width="1.2" />
<line x1="145.15" y1="475.5" x2="145.15" y2="478.5" stroke="#000" stroke-width="1.2"/>
<text x="145.15" y="489.2" font-size="8.3" font-weight="bold" text-anchor="middle" fill="#000" >3</text>
<line x1="155.15" y1="408.4" x2="155.15" y2="401.4" stroke="#000" stroke-width="1.5"/>
<line x1="153.25" y1="401.4" x2="157.05" y2="401.4" stroke="#000" stroke-width="1.2"/>
<rect x="151.4" y="409" width="7.5" height="66.5" fill="#fff" stroke="#000" stroke-width="1.2" />
<line x1="155.15" y1="475.5" x2="155.15" y2="478.5" stroke="#000" stroke-width="1.2"/>
<text x="155.15" y="489.2" font-size="8.3" font-weight="bold" text-anchor="middle" fill="#000" >6</text>
<line x1="165.15" y1="419" x2="165.15" y2="414.6" stroke="#000" stroke-width="1.5"/>
<line x1="163.25" y1="414.6" x2="167.05" y2="414.6" stroke="#000" stroke-width="1.2"/>
<rect x="161.4" y="419.6" width="7.5" height="55.9" fill="#fff" stroke="#000" stroke-width="1.2" />
<line x1="165.15" y1="475.5" x2="165.15" y2="478.5" stroke="#000" stroke-width="1.2"/>
<text x="165.15" y="489.2" font-size="8.3" font-weight="bold" text-anchor="middle" fill="#000" >12</text>
<line x1="186.25" y1="455.4" x2="186.25" y2="451.6" stroke="#000" stroke-width="1.5"/>
<line x1="184.35" y1="451.6" x2="188.15" y2="451.6" stroke="#000" stroke-width="1.2"/>
<rect x="182.5" y="456" width="7.5" height="19.5" fill="#a4a4a8" stroke="#000" stroke-width="1.2" />
<line x1="186.25" y1="475.5" x2="186.25" y2="478.5" stroke="#000" stroke-width="1.2"/>
<text x="186.25" y="489.2" font-size="8.3" font-weight="bold" text-anchor="middle" fill="#000" >0</text>
<line x1="196.25" y1="436" x2="196.25" y2="431.2" stroke="#000" stroke-width="1.5"/>
<line x1="194.35" y1="431.2" x2="198.15" y2="431.2" stroke="#000" stroke-width="1.2"/>
<rect x="192.5" y="436.6" width="7.5" height="38.9" fill="#a4a4a8" stroke="#000" stroke-width="1.2" />
<line x1="196.25" y1="475.5" x2="196.25" y2="478.5" stroke="#000" stroke-width="1.2"/>
<text x="196.25" y="489.2" font-size="8.3" font-weight="bold" text-anchor="middle" fill="#000" >1</text>
<line x1="206.25" y1="399.4" x2="206.25" y2="395" stroke="#000" stroke-width="1.5"/>
<line x1="204.35" y1="395" x2="208.15" y2="395" stroke="#000" stroke-width="1.2"/>
<rect x="202.5" y="400" width="7.5" height="75.5" fill="#a4a4a8" stroke="#000" stroke-width="1.2" />
<line x1="206.25" y1="475.5" x2="206.25" y2="478.5" stroke="#000" stroke-width="1.2"/>
<text x="206.25" y="489.2" font-size="8.3" font-weight="bold" text-anchor="middle" fill="#000" >2</text>
<line x1="216.25" y1="394.4" x2="216.25" y2="385" stroke="#000" stroke-width="1.5"/>
<line x1="214.35" y1="385" x2="218.15" y2="385" stroke="#000" stroke-width="1.2"/>
<rect x="212.5" y="395" width="7.5" height="80.5" fill="#a4a4a8" stroke="#000" stroke-width="1.2" />
<line x1="216.25" y1="475.5" x2="216.25" y2="478.5" stroke="#000" stroke-width="1.2"/>
<text x="216.25" y="489.2" font-size="8.3" font-weight="bold" text-anchor="middle" fill="#000" >3</text>
<line x1="226.25" y1="426.6" x2="226.25" y2="416.6" stroke="#000" stroke-width="1.5"/>
<line x1="224.35" y1="416.6" x2="228.15" y2="416.6" stroke="#000" stroke-width="1.2"/>
<rect x="222.5" y="427.2" width="7.5" height="48.3" fill="#a4a4a8" stroke="#000" stroke-width="1.2" />
<line x1="226.25" y1="475.5" x2="226.25" y2="478.5" stroke="#000" stroke-width="1.2"/>
<text x="226.25" y="489.2" font-size="8.3" font-weight="bold" text-anchor="middle" fill="#000" >6</text>
<line x1="236.25" y1="457" x2="236.25" y2="452.6" stroke="#000" stroke-width="1.5"/>
<line x1="234.35" y1="452.6" x2="238.15" y2="452.6" stroke="#000" stroke-width="1.2"/>
<rect x="232.5" y="457.6" width="7.5" height="17.9" fill="#a4a4a8" stroke="#000" stroke-width="1.2" />
<line x1="236.25" y1="475.5" x2="236.25" y2="478.5" stroke="#000" stroke-width="1.2"/>
<text x="236.25" y="489.2" font-size="8.3" font-weight="bold" text-anchor="middle" fill="#000" >12</text>
<text x="63.8" y="418.5" font-size="10" font-weight="normal" text-anchor="middle" fill="#333" letter-spacing="0.4" stroke="#333" stroke-width="0.3">**</text>
<text x="73.8" y="413.9" font-size="10" font-weight="normal" text-anchor="middle" fill="#333" letter-spacing="0.4" stroke="#333" stroke-width="0.3">**</text>
<text x="135.4" y="427.1" font-size="10" font-weight="normal" text-anchor="middle" fill="#333" letter-spacing="0.4" stroke="#333" stroke-width="0.3">*</text>
<text x="145.4" y="422.1" font-size="10" font-weight="normal" text-anchor="middle" fill="#333" letter-spacing="0.4" stroke="#333" stroke-width="0.3">**</text>
<text x="155.4" y="400.5" font-size="10" font-weight="normal" text-anchor="middle" fill="#333" letter-spacing="0.4" stroke="#333" stroke-width="0.3">**</text>
<text x="165.4" y="411.5" font-size="10" font-weight="normal" text-anchor="middle" fill="#333" letter-spacing="0.4" stroke="#333" stroke-width="0.3">**</text>
<text x="206.8" y="394.9" font-size="10" font-weight="normal" text-anchor="middle" fill="#333" letter-spacing="0.4" stroke="#333" stroke-width="0.3">**</text>
<text x="216.8" y="383.5" font-size="10" font-weight="normal" text-anchor="middle" fill="#333" letter-spacing="0.4" stroke="#333" stroke-width="0.3">**</text>
<text x="226.8" y="416.9" font-size="10" font-weight="normal" text-anchor="middle" fill="#333" letter-spacing="0.4" stroke="#333" stroke-width="0.3">*</text>
<text x="103.8" y="507.4" font-size="10.1" font-weight="normal" text-anchor="start" fill="#000" stroke="#000" stroke-width="0.6">C5a 25ng/ml (h)</text>
<rect x="41.6" y="366" width="15.2" height="4.8" fill="#000" stroke="#000" stroke-width="1.1" />
<text x="65" y="371" font-size="9.4" font-weight="bold" text-anchor="start" fill="#000" >KLF5</text>
<rect x="41.6" y="374.85" width="15.2" height="4.8" fill="#fff" stroke="#000" stroke-width="1.1" />
<text x="65" y="379.85" font-size="9.4" font-weight="bold" text-anchor="start" fill="#000" >GCN5</text>
<rect x="41.6" y="383.7" width="15.2" height="4.8" fill="#a4a4a8" stroke="#000" stroke-width="1.1" />
<text x="65" y="388.7" font-size="9.4" font-weight="bold" text-anchor="start" fill="#000" >GDF15</text>
<text x="1.3" y="539.6" font-size="15.5" font-weight="bold" text-anchor="start" fill="#000" >f</text>
<text x="99" y="539.2" font-size="9.4" font-weight="bold" text-anchor="start" fill="#000" >C5a 25ng/ml (h)</text>
<line x1="22" y1="545.3" x2="237" y2="545.3" stroke="#222" stroke-width="1.3"/>
<text x="40.8" y="554.2" font-size="8.6" font-weight="bold" text-anchor="middle" fill="#000" >0</text>
<text x="74.8" y="554.2" font-size="8.6" font-weight="bold" text-anchor="middle" fill="#000" >1</text>
<text x="112.2" y="554.2" font-size="8.6" font-weight="bold" text-anchor="middle" fill="#000" >2</text>
<text x="146.7" y="554.2" font-size="8.6" font-weight="bold" text-anchor="middle" fill="#000" >3</text>
<text x="183.8" y="554.2" font-size="8.6" font-weight="bold" text-anchor="middle" fill="#000" >6</text>
<text x="218.6" y="554.2" font-size="8.6" font-weight="bold" text-anchor="middle" fill="#000" >12</text>
<rect x="22.6" y="558.2" width="214" height="23.4" fill="#e8e8e8" stroke="#6a6a6a" stroke-width="1.3" />
<rect x="22.6" y="589.2" width="214" height="23.4" fill="#e8e8e8" stroke="#6a6a6a" stroke-width="1.3" />
<rect x="22.6" y="621.4" width="214" height="22.6" fill="#e8e8e8" stroke="#6a6a6a" stroke-width="1.3" />
<rect x="22.6" y="652.4" width="214" height="23.6" fill="#e8e8e8" stroke="#6a6a6a" stroke-width="1.3" />
<path d="M25.5,569.15 L27.03,568.18 L28.56,567.64 L30.08,567.56 L31.61,567.48 L33.14,567.41 L34.67,567.33 L36.19,567.25 L37.72,567.18 L39.25,567.1 L40.78,567.06 L42.31,567.02 L43.83,566.97 L45.36,566.93 L46.89,566.88 L48.42,566.84 L49.94,566.79 L51.47,567.09 L53,567.67 L53,568.33 L51.47,569.09 L49.94,569.56 L48.42,569.69 L46.89,569.83 L45.36,569.96 L43.83,570.09 L42.31,570.23 L40.78,570.36 L39.25,570.5 L37.72,570.6 L36.19,570.7 L34.67,570.81 L33.14,570.91 L31.61,571.01 L30.08,571.11 L28.56,571.2 L27.03,570.85 L25.5,570.05Z" fill="#1e1e1e" opacity="1.0" filter="url(#b1)"/>
<path d="M62.5,567.78 L63.83,566.87 L65.17,566.38 L66.5,566.33 L67.83,566.27 L69.17,566.22 L70.5,566.16 L71.83,566.11 L73.17,566.05 L74.5,566 L75.83,565.98 L77.17,565.96 L78.5,565.94 L79.83,565.92 L81.17,565.9 L82.5,565.87 L83.83,565.85 L85.17,566.14 L86.5,566.7 L86.5,567.3 L85.17,567.99 L83.83,568.42 L82.5,568.53 L81.17,568.64 L79.83,568.75 L78.5,568.86 L77.17,568.97 L75.83,569.09 L74.5,569.2 L73.17,569.28 L71.83,569.36 L70.5,569.44 L69.17,569.52 L67.83,569.6 L66.5,569.67 L65.17,569.75 L63.83,569.39 L62.5,568.62Z" fill="#1e1e1e" opacity="1.0" filter="url(#b1)"/>
<path d="M97,566.35 L98.61,565.05 L100.22,564.38 L101.83,564.37 L103.44,564.35 L105.06,564.34 L106.67,564.33 L108.28,564.32 L109.89,564.31 L111.5,564.3 L113.11,564.32 L114.72,564.34 L116.33,564.37 L117.94,564.39 L119.56,564.41 L121.17,564.43 L122.78,564.46 L124.39,565.12 L126,566.38 L126,567.62 L124.39,568.88 L122.78,569.54 L121.17,569.57 L119.56,569.59 L117.94,569.61 L116.33,569.63 L114.72,569.66 L113.11,569.68 L111.5,569.7 L109.89,569.69 L108.28,569.68 L106.67,569.67 L105.06,569.66 L103.44,569.65 L101.83,569.63 L100.22,569.62 L98.61,568.95 L97,567.65Z" fill="#060606" opacity="1.0" filter="url(#b1)"/>
<path d="M134.6,567.02 L136.12,565.86 L137.64,565.23 L139.17,565.2 L140.69,565.17 L142.21,565.13 L143.73,565.1 L145.26,565.07 L146.78,565.03 L148.3,565 L149.82,564.96 L151.34,564.91 L152.87,564.87 L154.39,564.82 L155.91,564.78 L157.43,564.73 L158.96,564.69 L160.48,565.4 L162,566.85 L162,568.35 L160.48,569.8 L158.96,570.51 L157.43,570.47 L155.91,570.42 L154.39,570.38 L152.87,570.33 L151.34,570.29 L149.82,570.24 L148.3,570.2 L146.78,570.17 L145.26,570.13 L143.73,570.1 L142.21,570.07 L140.69,570.03 L139.17,570 L137.64,569.97 L136.12,569.34 L134.6,568.18Z" fill="#080808" opacity="1.0" filter="url(#b1)"/>
<path d="M171.6,567.83 L172.93,567.08 L174.27,566.7 L175.6,566.7 L176.93,566.7 L178.27,566.7 L179.6,566.7 L180.93,566.7 L182.27,566.7 L183.6,566.7 L184.93,566.7 L186.27,566.7 L187.6,566.7 L188.93,566.7 L190.27,566.7 L191.6,566.7 L192.93,566.7 L194.27,567.08 L195.6,567.83 L195.6,568.58 L194.27,569.32 L192.93,569.7 L191.6,569.7 L190.27,569.7 L188.93,569.7 L187.6,569.7 L186.27,569.7 L184.93,569.7 L183.6,569.7 L182.27,569.7 L180.93,569.7 L179.6,569.7 L178.27,569.7 L176.93,569.7 L175.6,569.7 L174.27,569.7 L172.93,569.32 L171.6,568.58Z" fill="#262626" opacity="1.0" filter="url(#b1)"/>
<path d="M204.8,567.62 L206.34,566.86 L207.89,566.43 L209.43,566.4 L210.98,566.37 L212.52,566.34 L214.07,566.3 L215.61,566.27 L217.16,566.23 L218.7,566.2 L220.24,566.18 L221.79,566.15 L223.33,566.13 L224.88,566.11 L226.42,566.09 L227.97,566.07 L229.51,566.04 L231.06,566.53 L232.6,567.5 L232.6,568.5 L231.06,569.47 L229.51,569.96 L227.97,569.93 L226.42,569.91 L224.88,569.89 L223.33,569.87 L221.79,569.85 L220.24,569.82 L218.7,569.8 L217.16,569.77 L215.61,569.73 L214.07,569.7 L212.52,569.66 L210.98,569.63 L209.43,569.6 L207.89,569.57 L206.34,569.14 L204.8,568.38Z" fill="#161616" opacity="1.0" filter="url(#b1)"/>
<path d="M27,597.52 L28.33,596.96 L29.67,596.66 L31,596.63 L32.33,596.61 L33.67,596.59 L35,596.57 L36.33,596.55 L37.67,596.52 L39,596.5 L40.33,596.49 L41.67,596.48 L43,596.47 L44.33,596.45 L45.67,596.44 L47,596.43 L48.33,596.42 L49.67,596.76 L51,597.45 L51,598.15 L49.67,598.84 L48.33,599.18 L47,599.17 L45.67,599.16 L44.33,599.15 L43,599.13 L41.67,599.12 L40.33,599.11 L39,599.1 L37.67,599.08 L36.33,599.05 L35,599.03 L33.67,599.01 L32.33,598.99 L31,598.97 L29.67,598.94 L28.33,598.64 L27,598.07Z" fill="#333" opacity="1.0" filter="url(#b1)"/>
<path d="M62,597.92 L63.41,596.98 L64.82,596.5 L66.23,596.5 L67.64,596.5 L69.06,596.5 L70.47,596.5 L71.88,596.5 L73.29,596.5 L74.7,596.5 L76.11,596.5 L77.52,596.5 L78.93,596.5 L80.34,596.5 L81.76,596.5 L83.17,596.5 L84.58,596.5 L85.99,596.98 L87.4,597.92 L87.4,598.88 L85.99,599.82 L84.58,600.3 L83.17,600.3 L81.76,600.3 L80.34,600.3 L78.93,600.3 L77.52,600.3 L76.11,600.3 L74.7,600.3 L73.29,600.3 L71.88,600.3 L70.47,600.3 L69.06,600.3 L67.64,600.3 L66.23,600.3 L64.82,600.3 L63.41,599.82 L62,598.88Z" fill="#1c1c1c" opacity="1.0" filter="url(#b1)"/>
<path d="M97.5,598.05 L98.92,596.96 L100.33,596.4 L101.75,596.4 L103.17,596.4 L104.58,596.4 L106,596.4 L107.42,596.4 L108.83,596.4 L110.25,596.4 L111.67,596.4 L113.08,596.4 L114.5,596.4 L115.92,596.4 L117.33,596.4 L118.75,596.4 L120.17,596.4 L121.58,596.96 L123,598.05 L123,599.15 L121.58,600.24 L120.17,600.8 L118.75,600.8 L117.33,600.8 L115.92,600.8 L114.5,600.8 L113.08,600.8 L111.67,600.8 L110.25,600.8 L108.83,600.8 L107.42,600.8 L106,600.8 L104.58,600.8 L103.17,600.8 L101.75,600.8 L100.33,600.8 L98.92,600.24 L97.5,599.15Z" fill="#121212" opacity="1.0" filter="url(#b1)"/>
<path d="M133,598.45 L134.5,597.36 L136,596.8 L137.5,596.8 L139,596.8 L140.5,596.8 L142,596.8 L143.5,596.8 L145,596.8 L146.5,596.8 L148,596.8 L149.5,596.8 L151,596.8 L152.5,596.8 L154,596.8 L155.5,596.8 L157,596.8 L158.5,597.36 L160,598.45 L160,599.55 L158.5,600.64 L157,601.2 L155.5,601.2 L154,601.2 L152.5,601.2 L151,601.2 L149.5,601.2 L148,601.2 L146.5,601.2 L145,601.2 L143.5,601.2 L142,601.2 L140.5,601.2 L139,601.2 L137.5,601.2 L136,601.2 L134.5,600.64 L133,599.55Z" fill="#121212" opacity="1.0" filter="url(#b1)"/>
<path d="M170,599.2 L171.56,597.61 L173.11,596.8 L174.67,596.8 L176.22,596.8 L177.78,596.8 L179.33,596.8 L180.89,596.8 L182.44,596.8 L184,596.8 L185.56,596.8 L187.11,596.8 L188.67,596.8 L190.22,596.8 L191.78,596.8 L193.33,596.8 L194.89,596.8 L196.44,597.61 L198,599.2 L198,600.8 L196.44,602.39 L194.89,603.2 L193.33,603.2 L191.78,603.2 L190.22,603.2 L188.67,603.2 L187.11,603.2 L185.56,603.2 L184,603.2 L182.44,603.2 L180.89,603.2 L179.33,603.2 L177.78,603.2 L176.22,603.2 L174.67,603.2 L173.11,603.2 L171.56,602.39 L170,600.8Z" fill="#040404" opacity="1.0" filter="url(#b1)"/>
<path d="M204.6,600.38 L206.18,599.11 L207.76,598.43 L209.33,598.4 L210.91,598.37 L212.49,598.34 L214.07,598.3 L215.64,598.27 L217.22,598.23 L218.8,598.2 L220.38,598.21 L221.96,598.22 L223.53,598.23 L225.11,598.24 L226.69,598.25 L228.27,598.26 L229.84,598.28 L231.42,598.98 L233,600.33 L233,601.67 L231.42,603.02 L229.84,603.72 L228.27,603.74 L226.69,603.75 L225.11,603.76 L223.53,603.77 L221.96,603.78 L220.38,603.79 L218.8,603.8 L217.22,603.77 L215.64,603.73 L214.07,603.7 L212.49,603.66 L210.91,603.63 L209.33,603.6 L207.76,603.57 L206.18,602.89 L204.6,601.62Z" fill="#161616" opacity="1.0" filter="url(#b1)"/>
<path d="M64,629.65 L65.22,628.96 L66.44,628.6 L67.67,628.6 L68.89,628.6 L70.11,628.6 L71.33,628.6 L72.56,628.6 L73.78,628.6 L75,628.6 L76.22,628.6 L77.44,628.6 L78.67,628.6 L79.89,628.6 L81.11,628.6 L82.33,628.6 L83.56,628.6 L84.78,628.96 L86,629.65 L86,630.35 L84.78,631.04 L83.56,631.4 L82.33,631.4 L81.11,631.4 L79.89,631.4 L78.67,631.4 L77.44,631.4 L76.22,631.4 L75,631.4 L73.78,631.4 L72.56,631.4 L71.33,631.4 L70.11,631.4 L68.89,631.4 L67.67,631.4 L66.44,631.4 L65.22,631.04 L64,630.35Z" fill="#a0a0a0" opacity="1.0" filter="url(#b1)"/>
<path d="M98,630.2 L99.64,628.61 L101.28,627.8 L102.92,627.8 L104.56,627.79 L106.19,627.79 L107.83,627.8 L109.47,627.8 L111.11,627.8 L112.75,627.8 L114.39,627.86 L116.03,627.91 L117.67,627.97 L119.31,628.03 L120.94,628.08 L122.58,628.14 L124.22,628.19 L125.86,628.95 L127.5,630.33 L127.5,631.67 L125.86,633.05 L124.22,633.81 L122.58,633.86 L120.94,633.92 L119.31,633.97 L117.67,634.03 L116.03,634.09 L114.39,634.14 L112.75,634.2 L111.11,634.2 L109.47,634.2 L107.83,634.2 L106.19,634.21 L104.56,634.21 L102.92,634.2 L101.28,634.2 L99.64,633.39 L98,631.8Z" fill="#101010" opacity="1.0" filter="url(#b1)"/>
<path d="M134.4,630.5 L135.91,629.11 L137.42,628.4 L138.93,628.4 L140.44,628.4 L141.96,628.4 L143.47,628.4 L144.98,628.4 L146.49,628.4 L148,628.4 L149.51,628.4 L151.02,628.4 L152.53,628.4 L154.04,628.4 L155.56,628.4 L157.07,628.4 L158.58,628.4 L160.09,629.11 L161.6,630.5 L161.6,631.9 L160.09,633.29 L158.58,634 L157.07,634 L155.56,634 L154.04,634 L152.53,634 L151.02,634 L149.51,634 L148,634 L146.49,634 L144.98,634 L143.47,634 L141.96,634 L140.44,634 L138.93,634 L137.42,634 L135.91,633.29 L134.4,631.9Z" fill="#1a1a1a" opacity="1.0" filter="url(#b1)"/>
<path d="M171.4,630.55 L172.74,629.66 L174.09,629.2 L175.43,629.2 L176.78,629.2 L178.12,629.2 L179.47,629.2 L180.81,629.2 L182.16,629.2 L183.5,629.2 L184.84,629.2 L186.19,629.2 L187.53,629.2 L188.88,629.2 L190.22,629.2 L191.57,629.2 L192.91,629.2 L194.26,629.66 L195.6,630.55 L195.6,631.45 L194.26,632.34 L192.91,632.8 L191.57,632.8 L190.22,632.8 L188.88,632.8 L187.53,632.8 L186.19,632.8 L184.84,632.8 L183.5,632.8 L182.16,632.8 L180.81,632.8 L179.47,632.8 L178.12,632.8 L176.78,632.8 L175.43,632.8 L174.09,632.8 L172.74,632.34 L171.4,631.45Z" fill="#444" opacity="1.0" filter="url(#b1)"/>
<path d="M205.5,630.62 L207.06,629.88 L208.61,629.5 L210.17,629.5 L211.72,629.5 L213.28,629.5 L214.83,629.5 L216.39,629.5 L217.94,629.5 L219.5,629.5 L221.06,629.5 L222.61,629.5 L224.17,629.5 L225.72,629.5 L227.28,629.5 L228.83,629.5 L230.39,629.5 L231.94,629.88 L233.5,630.62 L233.5,631.38 L231.94,632.12 L230.39,632.5 L228.83,632.5 L227.28,632.5 L225.72,632.5 L224.17,632.5 L222.61,632.5 L221.06,632.5 L219.5,632.5 L217.94,632.5 L216.39,632.5 L214.83,632.5 L213.28,632.5 L211.72,632.5 L210.17,632.5 L208.61,632.5 L207.06,632.12 L205.5,631.38Z" fill="#8a8a8a" opacity="1.0" filter="url(#b1)"/>
<path d="M27,664.12 L28.58,662.41 L30.17,661.54 L31.75,661.56 L33.33,661.59 L34.92,661.61 L36.5,661.63 L38.08,661.65 L39.67,661.68 L41.25,661.7 L42.83,661.75 L44.42,661.79 L46,661.84 L47.58,661.88 L49.17,661.92 L50.75,661.97 L52.33,662.01 L53.92,662.81 L55.5,664.27 L55.5,665.73 L53.92,667.19 L52.33,667.99 L50.75,668.03 L49.17,668.08 L47.58,668.12 L46,668.16 L44.42,668.21 L42.83,668.25 L41.25,668.3 L39.67,668.32 L38.08,668.35 L36.5,668.37 L34.92,668.39 L33.33,668.41 L31.75,668.44 L30.17,668.46 L28.58,667.59 L27,665.88Z" fill="#050505" opacity="1.0" filter="url(#b1)"/>
<path d="M60.5,663.53 L62.08,662.19 L63.67,661.5 L65.25,661.5 L66.83,661.5 L68.42,661.5 L70,661.5 L71.58,661.5 L73.17,661.5 L74.75,661.5 L76.33,661.5 L77.92,661.5 L79.5,661.5 L81.08,661.5 L82.67,661.5 L84.25,661.5 L85.83,661.5 L87.42,662.19 L89,663.53 L89,664.88 L87.42,666.21 L85.83,666.9 L84.25,666.9 L82.67,666.9 L81.08,666.9 L79.5,666.9 L77.92,666.9 L76.33,666.9 L74.75,666.9 L73.17,666.9 L71.58,666.9 L70,666.9 L68.42,666.9 L66.83,666.9 L65.25,666.9 L63.67,666.9 L62.08,666.21 L60.5,664.88Z" fill="#0a0a0a" opacity="1.0" filter="url(#b1)"/>
<path d="M95.8,663.4 L97.53,661.83 L99.27,661.04 L101,661.07 L102.73,661.09 L104.47,661.11 L106.2,661.13 L107.93,661.16 L109.67,661.18 L111.4,661.2 L113.13,661.22 L114.87,661.24 L116.6,661.27 L118.33,661.29 L120.07,661.31 L121.8,661.33 L123.53,661.36 L125.27,662.1 L127,663.5 L127,664.9 L125.27,666.3 L123.53,667.04 L121.8,667.07 L120.07,667.09 L118.33,667.11 L116.6,667.13 L114.87,667.16 L113.13,667.18 L111.4,667.2 L109.67,667.22 L107.93,667.24 L106.2,667.27 L104.47,667.29 L102.73,667.31 L101,667.33 L99.27,667.36 L97.53,666.57 L95.8,665Z" fill="#050505" opacity="1.0" filter="url(#b1)"/>
<path d="M131,663.8 L132.76,662.21 L134.51,661.4 L136.27,661.4 L138.02,661.4 L139.78,661.4 L141.53,661.4 L143.29,661.4 L145.04,661.4 L146.8,661.4 L148.56,661.4 L150.31,661.4 L152.07,661.4 L153.82,661.4 L155.58,661.4 L157.33,661.4 L159.09,661.4 L160.84,662.21 L162.6,663.8 L162.6,665.4 L160.84,666.99 L159.09,667.8 L157.33,667.8 L155.58,667.8 L153.82,667.8 L152.07,667.8 L150.31,667.8 L148.56,667.8 L146.8,667.8 L145.04,667.8 L143.29,667.8 L141.53,667.8 L139.78,667.8 L138.02,667.8 L136.27,667.8 L134.51,667.8 L132.76,666.99 L131,665.4Z" fill="#050505" opacity="1.0" filter="url(#b1)"/>
<path d="M168.7,663.95 L170.27,662.66 L171.84,662 L173.42,662 L174.99,662 L176.56,662 L178.13,662 L179.71,662 L181.28,662 L182.85,662 L184.42,662 L185.99,662 L187.57,662 L189.14,662 L190.71,662 L192.28,662 L193.86,662 L195.43,662.66 L197,663.95 L197,665.25 L195.43,666.54 L193.86,667.2 L192.28,667.2 L190.71,667.2 L189.14,667.2 L187.57,667.2 L185.99,667.2 L184.42,667.2 L182.85,667.2 L181.28,667.2 L179.71,667.2 L178.13,667.2 L176.56,667.2 L174.99,667.2 L173.42,667.2 L171.84,667.2 L170.27,666.54 L168.7,665.25Z" fill="#0a0a0a" opacity="1.0" filter="url(#b1)"/>
<path d="M203,663.5 L204.78,662.1 L206.56,661.36 L208.33,661.33 L210.11,661.31 L211.89,661.29 L213.67,661.27 L215.44,661.24 L217.22,661.22 L219,661.2 L220.78,661.19 L222.56,661.18 L224.33,661.17 L226.11,661.15 L227.89,661.14 L229.67,661.13 L231.44,661.12 L233.22,661.9 L235,663.43 L235,664.98 L233.22,666.5 L231.44,667.28 L229.67,667.27 L227.89,667.26 L226.11,667.25 L224.33,667.23 L222.56,667.22 L220.78,667.21 L219,667.2 L217.22,667.18 L215.44,667.16 L213.67,667.13 L211.89,667.11 L210.11,667.09 L208.33,667.07 L206.56,667.04 L204.78,666.3 L203,664.9Z" fill="#050505" opacity="1.0" filter="url(#b1)"/>
<text x="241" y="572.2" font-size="9.4" font-weight="bold" text-anchor="start" fill="#000" >KLF5</text>
<text x="241" y="604.2" font-size="9.4" font-weight="bold" text-anchor="start" fill="#000" >GCN5</text>
<text x="241" y="636.2" font-size="9.4" font-weight="bold" text-anchor="start" fill="#000" >GDF15</text>
<text x="240.8" y="668.2" font-size="9.4" font-weight="bold" text-anchor="start" fill="#000" >&#946;-actin</text>
<line x1="330.3" y1="543.2" x2="330.3" y2="651.2" stroke="#000" stroke-width="1.6"/>
<line x1="326" y1="650.5" x2="551.6" y2="650.5" stroke="#000" stroke-width="1.6"/>
<line x1="326.2" y1="650.5" x2="330.3" y2="650.5" stroke="#000" stroke-width="1.3"/>
<text x="324.7" y="654.1" font-size="10" font-weight="bold" text-anchor="end" fill="#000" >0</text>
<line x1="326.2" y1="614.8" x2="330.3" y2="614.8" stroke="#000" stroke-width="1.3"/>
<text x="324.7" y="618.4" font-size="10" font-weight="bold" text-anchor="end" fill="#000" >1</text>
<line x1="326.2" y1="579.1" x2="330.3" y2="579.1" stroke="#000" stroke-width="1.3"/>
<text x="324.7" y="582.7" font-size="10" font-weight="bold" text-anchor="end" fill="#000" >2</text>
<line x1="326.2" y1="543.4" x2="330.3" y2="543.4" stroke="#000" stroke-width="1.3"/>
<text x="324.7" y="547" font-size="10" font-weight="bold" text-anchor="end" fill="#000" >3</text>
<text x="310.9" y="596.4" font-size="10" font-weight="bold" text-anchor="middle" fill="#000" stroke="none" textLength="104.5" lengthAdjust="spacingAndGlyphs" transform="rotate(-90 310.9 596.4)">Relative protein level</text>
<line x1="341.35" y1="627.4" x2="341.35" y2="624.4" stroke="#000" stroke-width="1.5"/>
<line x1="339.45" y1="624.4" x2="343.25" y2="624.4" stroke="#000" stroke-width="1.2"/>
<rect x="337.7" y="628" width="7.3" height="22.5" fill="#333" stroke="#000" stroke-width="1.2" />
<line x1="341.35" y1="650.5" x2="341.35" y2="653.7" stroke="#000" stroke-width="1.2"/>
<text x="341.35" y="664.7" font-size="9.2" font-weight="bold" text-anchor="middle" fill="#000" >0</text>
<line x1="351.55" y1="621.4" x2="351.55" y2="619.4" stroke="#000" stroke-width="1.5"/>
<line x1="349.65" y1="619.4" x2="353.45" y2="619.4" stroke="#000" stroke-width="1.2"/>
<rect x="347.9" y="622" width="7.3" height="28.5" fill="#333" stroke="#000" stroke-width="1.2" />
<line x1="351.55" y1="650.5" x2="351.55" y2="653.7" stroke="#000" stroke-width="1.2"/>
<text x="351.55" y="664.7" font-size="9.2" font-weight="bold" text-anchor="middle" fill="#000" >1</text>
<line x1="361.75" y1="593.6" x2="361.75" y2="587.4" stroke="#000" stroke-width="1.5"/>
<line x1="359.85" y1="587.4" x2="363.65" y2="587.4" stroke="#000" stroke-width="1.2"/>
<rect x="358.1" y="594.2" width="7.3" height="56.3" fill="#333" stroke="#000" stroke-width="1.2" />
<line x1="361.75" y1="650.5" x2="361.75" y2="653.7" stroke="#000" stroke-width="1.2"/>
<text x="361.75" y="664.7" font-size="9.2" font-weight="bold" text-anchor="middle" fill="#000" >2</text>
<line x1="371.95" y1="592.4" x2="371.95" y2="586.6" stroke="#000" stroke-width="1.5"/>
<line x1="370.05" y1="586.6" x2="373.85" y2="586.6" stroke="#000" stroke-width="1.2"/>
<rect x="368.3" y="593" width="7.3" height="57.5" fill="#333" stroke="#000" stroke-width="1.2" />
<line x1="371.95" y1="650.5" x2="371.95" y2="653.7" stroke="#000" stroke-width="1.2"/>
<text x="371.95" y="664.7" font-size="9.2" font-weight="bold" text-anchor="middle" fill="#000" >3</text>
<line x1="382.15" y1="623.4" x2="382.15" y2="621.4" stroke="#000" stroke-width="1.5"/>
<line x1="380.25" y1="621.4" x2="384.05" y2="621.4" stroke="#000" stroke-width="1.2"/>
<rect x="378.5" y="624" width="7.3" height="26.5" fill="#333" stroke="#000" stroke-width="1.2" />
<line x1="382.15" y1="650.5" x2="382.15" y2="653.7" stroke="#000" stroke-width="1.2"/>
<text x="382.15" y="664.7" font-size="9.2" font-weight="bold" text-anchor="middle" fill="#000" >6</text>
<line x1="392.35" y1="620.6" x2="392.35" y2="616.6" stroke="#000" stroke-width="1.5"/>
<line x1="390.45" y1="616.6" x2="394.25" y2="616.6" stroke="#000" stroke-width="1.2"/>
<rect x="388.7" y="621.2" width="7.3" height="29.3" fill="#333" stroke="#000" stroke-width="1.2" />
<line x1="392.35" y1="650.5" x2="392.35" y2="653.7" stroke="#000" stroke-width="1.2"/>
<text x="392.35" y="664.7" font-size="9.2" font-weight="bold" text-anchor="middle" fill="#000" >12</text>
<line x1="415.05" y1="637" x2="415.05" y2="635" stroke="#000" stroke-width="1.5"/>
<line x1="413.15" y1="635" x2="416.95" y2="635" stroke="#000" stroke-width="1.2"/>
<rect x="411.4" y="637.6" width="7.3" height="12.9" fill="#fff" stroke="#000" stroke-width="1.2" />
<line x1="415.05" y1="650.5" x2="415.05" y2="653.7" stroke="#000" stroke-width="1.2"/>
<text x="415.05" y="664.7" font-size="9.2" font-weight="bold" text-anchor="middle" fill="#000" >0</text>
<line x1="425.35" y1="621" x2="425.35" y2="617.6" stroke="#000" stroke-width="1.5"/>
<line x1="423.45" y1="617.6" x2="427.25" y2="617.6" stroke="#000" stroke-width="1.2"/>
<rect x="421.7" y="621.6" width="7.3" height="28.9" fill="#fff" stroke="#000" stroke-width="1.2" />
<line x1="425.35" y1="650.5" x2="425.35" y2="653.7" stroke="#000" stroke-width="1.2"/>
<text x="425.35" y="664.7" font-size="9.2" font-weight="bold" text-anchor="middle" fill="#000" >1</text>
<line x1="435.65" y1="610" x2="435.65" y2="605.6" stroke="#000" stroke-width="1.5"/>
<line x1="433.75" y1="605.6" x2="437.55" y2="605.6" stroke="#000" stroke-width="1.2"/>
<rect x="432" y="610.6" width="7.3" height="39.9" fill="#fff" stroke="#000" stroke-width="1.2" />
<line x1="435.65" y1="650.5" x2="435.65" y2="653.7" stroke="#000" stroke-width="1.2"/>
<text x="435.65" y="664.7" font-size="9.2" font-weight="bold" text-anchor="middle" fill="#000" >2</text>
<line x1="445.95" y1="607" x2="445.95" y2="603" stroke="#000" stroke-width="1.5"/>
<line x1="444.05" y1="603" x2="447.85" y2="603" stroke="#000" stroke-width="1.2"/>
<rect x="442.3" y="607.6" width="7.3" height="42.9" fill="#fff" stroke="#000" stroke-width="1.2" />
<line x1="445.95" y1="650.5" x2="445.95" y2="653.7" stroke="#000" stroke-width="1.2"/>
<text x="445.95" y="664.7" font-size="9.2" font-weight="bold" text-anchor="middle" fill="#000" >3</text>
<line x1="456.25" y1="589.6" x2="456.25" y2="583" stroke="#000" stroke-width="1.5"/>
<line x1="454.35" y1="583" x2="458.15" y2="583" stroke="#000" stroke-width="1.2"/>
<rect x="452.6" y="590.2" width="7.3" height="60.3" fill="#fff" stroke="#000" stroke-width="1.2" />
<line x1="456.25" y1="650.5" x2="456.25" y2="653.7" stroke="#000" stroke-width="1.2"/>
<text x="456.25" y="664.7" font-size="9.2" font-weight="bold" text-anchor="middle" fill="#000" >6</text>
<line x1="466.55" y1="602" x2="466.55" y2="597.4" stroke="#000" stroke-width="1.5"/>
<line x1="464.65" y1="597.4" x2="468.45" y2="597.4" stroke="#000" stroke-width="1.2"/>
<rect x="462.9" y="602.6" width="7.3" height="47.9" fill="#fff" stroke="#000" stroke-width="1.2" />
<line x1="466.55" y1="650.5" x2="466.55" y2="653.7" stroke="#000" stroke-width="1.2"/>
<text x="466.55" y="664.7" font-size="9.2" font-weight="bold" text-anchor="middle" fill="#000" >12</text>
<line x1="488.65" y1="648" x2="488.65" y2="646.4" stroke="#000" stroke-width="1.5"/>
<line x1="486.75" y1="646.4" x2="490.55" y2="646.4" stroke="#000" stroke-width="1.2"/>
<rect x="485" y="648.6" width="7.3" height="1.9" fill="#a4a4a8" stroke="#000" stroke-width="1.2" />
<line x1="488.65" y1="650.5" x2="488.65" y2="653.7" stroke="#000" stroke-width="1.2"/>
<text x="488.65" y="664.7" font-size="9.2" font-weight="bold" text-anchor="middle" fill="#000" >0</text>
<line x1="498.95" y1="628.4" x2="498.95" y2="624.4" stroke="#000" stroke-width="1.5"/>
<line x1="497.05" y1="624.4" x2="500.85" y2="624.4" stroke="#000" stroke-width="1.2"/>
<rect x="495.3" y="629" width="7.3" height="21.5" fill="#a4a4a8" stroke="#000" stroke-width="1.2" />
<line x1="498.95" y1="650.5" x2="498.95" y2="653.7" stroke="#000" stroke-width="1.2"/>
<text x="498.95" y="664.7" font-size="9.2" font-weight="bold" text-anchor="middle" fill="#000" >1</text>
<line x1="509.25" y1="578.6" x2="509.25" y2="565" stroke="#000" stroke-width="1.5"/>
<line x1="507.35" y1="565" x2="511.15" y2="565" stroke="#000" stroke-width="1.2"/>
<rect x="505.6" y="579.2" width="7.3" height="71.3" fill="#a4a4a8" stroke="#000" stroke-width="1.2" />
<line x1="509.25" y1="650.5" x2="509.25" y2="653.7" stroke="#000" stroke-width="1.2"/>
<text x="509.25" y="664.7" font-size="9.2" font-weight="bold" text-anchor="middle" fill="#000" >2</text>
<line x1="519.55" y1="578.6" x2="519.55" y2="568.4" stroke="#000" stroke-width="1.5"/>
<line x1="517.65" y1="568.4" x2="521.45" y2="568.4" stroke="#000" stroke-width="1.2"/>
<rect x="515.9" y="579.2" width="7.3" height="71.3" fill="#a4a4a8" stroke="#000" stroke-width="1.2" />
<line x1="519.55" y1="650.5" x2="519.55" y2="653.7" stroke="#000" stroke-width="1.2"/>
<text x="519.55" y="664.7" font-size="9.2" font-weight="bold" text-anchor="middle" fill="#000" >3</text>
<line x1="529.85" y1="616" x2="529.85" y2="612" stroke="#000" stroke-width="1.5"/>
<line x1="527.95" y1="612" x2="531.75" y2="612" stroke="#000" stroke-width="1.2"/>
<rect x="526.2" y="616.6" width="7.3" height="33.9" fill="#a4a4a8" stroke="#000" stroke-width="1.2" />
<line x1="529.85" y1="650.5" x2="529.85" y2="653.7" stroke="#000" stroke-width="1.2"/>
<text x="529.85" y="664.7" font-size="9.2" font-weight="bold" text-anchor="middle" fill="#000" >6</text>
<line x1="540.15" y1="631.4" x2="540.15" y2="629" stroke="#000" stroke-width="1.5"/>
<line x1="538.25" y1="629" x2="542.05" y2="629" stroke="#000" stroke-width="1.2"/>
<rect x="536.5" y="632" width="7.3" height="18.5" fill="#a4a4a8" stroke="#000" stroke-width="1.2" />
<line x1="540.15" y1="650.5" x2="540.15" y2="653.7" stroke="#000" stroke-width="1.2"/>
<text x="540.15" y="664.7" font-size="9.2" font-weight="bold" text-anchor="middle" fill="#000" >12</text>
<text x="362" y="587.05" font-size="11" font-weight="normal" text-anchor="middle" fill="#333" letter-spacing="0.6" stroke="#333" stroke-width="0.35">**</text>
<text x="372.2" y="584.85" font-size="11" font-weight="normal" text-anchor="middle" fill="#333" letter-spacing="0.6" stroke="#333" stroke-width="0.35">**</text>
<text x="435.9" y="607.05" font-size="11" font-weight="normal" text-anchor="middle" fill="#333" letter-spacing="0.6" stroke="#333" stroke-width="0.35">*</text>
<text x="446.2" y="603.05" font-size="11" font-weight="normal" text-anchor="middle" fill="#333" letter-spacing="0.6" stroke="#333" stroke-width="0.35">*</text>
<text x="456.5" y="583.65" font-size="11" font-weight="normal" text-anchor="middle" fill="#333" letter-spacing="0.6" stroke="#333" stroke-width="0.35">**</text>
<text x="466.8" y="597.65" font-size="11" font-weight="normal" text-anchor="middle" fill="#333" letter-spacing="0.6" stroke="#333" stroke-width="0.35">**</text>
<text x="509.5" y="565.05" font-size="11" font-weight="normal" text-anchor="middle" fill="#333" letter-spacing="0.6" stroke="#333" stroke-width="0.35">**</text>
<text x="519.8" y="568.65" font-size="11" font-weight="normal" text-anchor="middle" fill="#333" letter-spacing="0.6" stroke="#333" stroke-width="0.35">**</text>
<text x="530.1" y="611.05" font-size="11" font-weight="normal" text-anchor="middle" fill="#333" letter-spacing="0.6" stroke="#333" stroke-width="0.35">*</text>
<text x="403.8" y="681.6" font-size="10.3" font-weight="normal" text-anchor="start" fill="#000" stroke="#000" stroke-width="0.55">C5a 25ng/ml (h)</text>
<rect x="340.5" y="534.6" width="15" height="4.8" fill="#333" stroke="#000" stroke-width="1" />
<text x="364.2" y="540" font-size="9.8" font-weight="bold" text-anchor="start" fill="#000" stroke="none">KLF5</text>
<rect x="340.5" y="545.9" width="15" height="4.8" fill="#fff" stroke="#000" stroke-width="1" />
<text x="364.2" y="551.3" font-size="9.8" font-weight="bold" text-anchor="start" fill="#000" stroke="none">GCN5</text>
<rect x="340.5" y="557.2" width="15" height="4.8" fill="#a4a4a8" stroke="#000" stroke-width="1" />
<text x="364.2" y="562.6" font-size="9.8" font-weight="bold" text-anchor="start" fill="#000" stroke="none">GDF15</text>
</svg>
</body></html>
